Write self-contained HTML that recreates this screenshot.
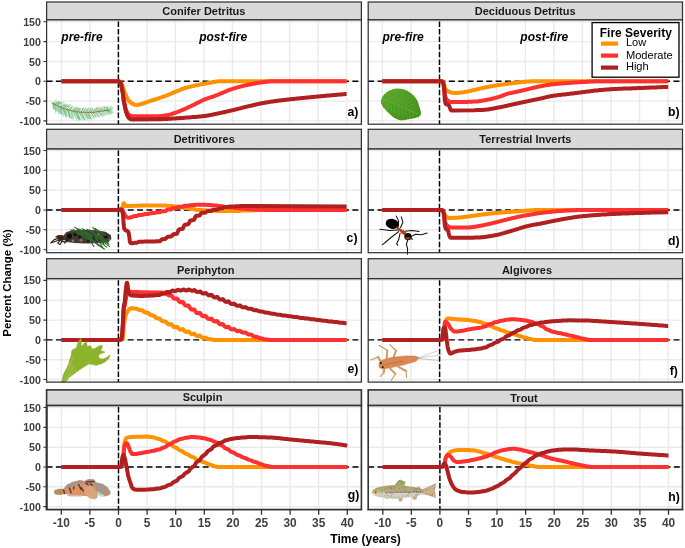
<!DOCTYPE html>
<html lang="en"><head><meta charset="utf-8"><title>Percent change after fire by severity</title>
<style>html,body{margin:0;padding:0;background:#fff}svg{display:block}text{font-family:"Liberation Sans",Arial,Helvetica,sans-serif}.tk{font-size:10.7px;font-weight:bold;fill:#404040}.st{font-size:11px;font-weight:bold;fill:#1a1a1a;text-anchor:middle}.pf{font-size:12px;font-weight:bold;font-style:italic;fill:#000;text-anchor:middle}.lt{font-size:12px;font-weight:bold;fill:#000;text-anchor:middle}.ax{font-size:12px;font-weight:bold;fill:#000;text-anchor:middle}.lg{font-size:11.1px;fill:#000}.ln{fill:none;stroke-width:4.0;stroke-linejoin:round;stroke-linecap:butt}</style></head><body>
<svg width="685" height="548" viewBox="0 0 685 548">
<rect width="685" height="548" fill="#fff"/>
<g id="panel-a">
<rect x="46.6" y="19.7" width="314.8" height="104.5" fill="#fff"/>
<path d="M46.6 120.9H361.4M46.6 101.1H361.4M46.6 81.3H361.4M46.6 61.5H361.4M46.6 41.6H361.4M46.6 21.8H361.4M61.4 19.7V124.2M89.9 19.7V124.2M118.4 19.7V124.2M146.9 19.7V124.2M175.4 19.7V124.2M204.0 19.7V124.2M232.5 19.7V124.2M261.0 19.7V124.2M289.6 19.7V124.2M318.1 19.7V124.2M346.6 19.7V124.2" stroke="#eaeaea" stroke-width="1.4" fill="none"/>
<path d="M46.6 81.3H118.4M118.4 81.3H361.4" stroke="#000" stroke-width="1.4" stroke-dasharray="5.9 3.46" fill="none"/>
<path d="M118.4 19.7V124.2" stroke="#000" stroke-width="1.45" stroke-dasharray="5.5 2.1" stroke-dashoffset="5.9" fill="none"/>
<path class="ln" stroke="#FF9200" d="M61.4 81.3 L118.4 81.3 118.8 81.3 119.2 81.5 119.5 81.7 119.9 81.9 120.3 82.2 120.7 82.5 121.1 82.9 121.4 83.6 121.8 84.4 122.2 85.3 122.6 86.3 123.0 87.2 123.3 88.3 123.7 89.4 124.1 90.7 124.5 91.9 124.9 93.0 125.2 94.0 125.6 94.8 126.0 95.7 126.4 96.5 126.8 97.2 127.1 98.0 127.5 98.7 127.9 99.3 128.3 99.9 128.7 100.4 129.0 100.9 129.4 101.3 129.8 101.7 130.2 102.1 130.6 102.5 131.0 102.8 131.3 103.1 131.7 103.4 132.1 103.6 132.5 103.8 132.9 104.0 133.2 104.1 133.6 104.3 134.0 104.4 134.4 104.6 134.8 104.7 135.1 104.8 135.5 104.9 136.2 104.9 136.9 104.9 137.7 104.8 138.4 104.7 139.1 104.6 139.8 104.4 140.5 104.3 141.2 104.1 141.9 103.9 142.6 103.7 143.4 103.5 144.1 103.2 144.8 102.9 145.5 102.6 146.2 102.4 146.9 102.1 147.6 101.9 148.4 101.6 149.1 101.4 149.8 101.2 150.5 100.9 151.2 100.7 151.9 100.5 152.6 100.2 153.3 100.0 154.1 99.8 154.8 99.5 155.5 99.3 156.2 99.1 156.9 98.8 157.6 98.6 158.3 98.3 159.0 98.1 159.8 97.9 160.5 97.6 161.2 97.4 161.9 97.1 162.6 96.9 163.3 96.6 164.0 96.4 164.8 96.1 165.5 95.9 166.2 95.6 166.9 95.4 167.6 95.1 168.3 94.8 169.0 94.5 169.7 94.2 170.5 93.9 171.2 93.6 171.9 93.3 172.6 93.0 173.3 92.7 174.0 92.4 174.7 92.1 175.4 91.8 176.2 91.5 176.9 91.2 177.6 90.9 178.3 90.6 179.0 90.3 179.7 90.0 180.4 89.7 181.2 89.5 181.9 89.2 182.6 88.9 183.3 88.7 184.0 88.4 184.7 88.2 185.4 88.0 186.1 87.7 186.9 87.5 187.6 87.3 188.3 87.1 189.0 87.0 189.7 86.8 190.4 86.6 191.1 86.4 191.9 86.3 192.6 86.1 193.3 85.9 194.0 85.8 194.7 85.6 195.4 85.5 196.1 85.3 196.8 85.2 197.6 85.0 198.3 84.9 199.0 84.7 199.7 84.6 200.4 84.4 201.1 84.3 201.8 84.2 202.5 84.0 203.3 83.9 204.0 83.8 204.7 83.7 205.4 83.5 206.1 83.4 206.8 83.3 207.5 83.1 208.3 83.0 209.0 82.9 209.7 82.8 210.4 82.6 211.1 82.5 211.8 82.4 212.5 82.3 213.2 82.2 214.0 82.0 214.7 81.9 215.4 81.7 216.1 81.6 216.8 81.5 217.5 81.4 218.2 81.3 346.6 81.3"/>
<path class="ln" stroke="#FF3030" d="M61.4 81.3 L118.4 81.3 118.8 81.4 119.2 81.5 119.5 81.7 119.9 82.0 120.3 82.4 120.7 83.0 121.1 84.0 121.4 85.5 121.8 87.3 122.2 89.1 122.6 91.0 123.0 93.5 123.3 96.2 123.7 98.9 124.1 101.1 124.5 103.1 124.9 104.9 125.2 106.7 125.6 108.3 126.0 109.6 126.4 110.6 126.8 111.5 127.1 112.3 127.5 113.0 127.9 113.6 128.3 114.1 128.7 114.5 129.0 114.9 129.4 115.1 129.8 115.3 130.2 115.5 130.6 115.7 131.0 115.8 131.3 116.0 131.7 116.1 132.1 116.1 132.5 116.2 156.9 116.2 157.6 116.2 158.3 116.2 159.0 116.2 159.8 116.1 160.5 116.1 161.2 116.0 161.9 115.9 162.6 115.8 163.3 115.8 164.0 115.7 164.8 115.6 165.5 115.4 166.2 115.3 166.9 115.2 167.6 115.1 168.3 114.9 169.0 114.8 169.7 114.6 170.5 114.4 171.2 114.2 171.9 114.0 172.6 113.7 173.3 113.4 174.0 113.2 174.7 112.9 175.4 112.6 176.2 112.4 176.9 112.1 177.6 111.9 178.3 111.6 179.0 111.3 179.7 111.1 180.4 110.8 181.2 110.5 181.9 110.2 182.6 109.9 183.3 109.6 184.0 109.3 184.7 109.0 185.4 108.7 186.1 108.4 186.9 108.0 187.6 107.7 188.3 107.4 189.0 107.0 189.7 106.7 190.4 106.4 191.1 106.0 191.9 105.7 192.6 105.3 193.3 105.0 194.0 104.6 194.7 104.3 195.4 103.9 196.1 103.6 196.8 103.2 197.6 102.9 198.3 102.5 199.0 102.1 199.7 101.8 200.4 101.4 201.1 101.0 201.8 100.7 202.5 100.3 203.3 100.0 204.0 99.7 204.7 99.4 205.4 99.1 206.1 98.9 206.8 98.6 207.5 98.4 208.3 98.1 209.0 97.9 209.7 97.7 210.4 97.5 211.1 97.2 211.8 97.0 212.5 96.8 213.2 96.5 214.0 96.3 214.7 96.0 215.4 95.7 216.1 95.4 216.8 95.1 217.5 94.9 218.2 94.6 219.0 94.3 219.7 94.0 220.4 93.7 221.1 93.4 221.8 93.1 222.5 92.8 223.2 92.5 223.9 92.2 224.7 91.9 225.4 91.6 226.1 91.3 226.8 91.0 227.5 90.7 228.2 90.4 228.9 90.1 229.6 89.8 230.4 89.6 231.1 89.3 231.8 89.1 232.5 88.9 233.2 88.6 233.9 88.4 234.6 88.2 235.4 88.0 236.1 87.8 236.8 87.6 237.5 87.4 238.2 87.2 238.9 87.0 239.6 86.8 240.3 86.6 241.1 86.4 241.8 86.2 242.5 86.1 243.2 85.9 243.9 85.7 244.6 85.6 245.3 85.4 246.0 85.2 246.8 85.1 247.5 84.9 248.2 84.8 248.9 84.6 249.6 84.5 250.3 84.3 251.0 84.2 251.8 84.0 252.5 83.9 253.2 83.8 253.9 83.6 254.6 83.5 255.3 83.4 256.0 83.3 256.7 83.1 257.5 83.0 258.2 82.9 258.9 82.8 259.6 82.7 260.3 82.6 261.0 82.5 261.7 82.4 262.5 82.3 263.2 82.2 263.9 82.1 264.6 82.0 265.3 81.9 266.0 81.8 266.7 81.7 267.4 81.6 268.2 81.5 268.9 81.4 269.6 81.4 270.3 81.3 271.0 81.3 346.6 81.3"/>
<path class="ln" stroke="#B02020" d="M61.4 81.3 L118.4 81.3 118.8 81.4 119.2 81.5 119.5 81.7 119.9 82.0 120.3 82.4 120.7 83.0 121.1 84.3 121.4 86.0 121.8 88.0 122.2 90.2 122.6 92.3 123.0 95.0 123.3 97.9 123.7 100.7 124.1 103.1 124.5 105.1 124.9 107.0 125.2 108.8 125.6 110.4 126.0 111.8 126.4 113.0 126.8 114.1 127.1 115.1 127.5 115.9 127.9 116.7 128.3 117.3 128.7 117.8 129.0 118.1 129.4 118.4 129.8 118.7 130.2 118.9 130.6 119.1 131.0 119.3 131.3 119.3 131.7 119.4 156.2 119.3 156.9 119.3 157.6 119.3 158.3 119.3 159.0 119.2 159.8 119.2 160.5 119.2 161.2 119.2 161.9 119.1 162.6 119.1 163.3 119.1 164.0 119.1 164.8 119.0 165.5 119.0 166.2 118.9 166.9 118.9 167.6 118.9 168.3 118.8 169.0 118.8 169.7 118.7 170.5 118.7 171.2 118.7 171.9 118.6 172.6 118.6 173.3 118.5 174.0 118.5 174.7 118.4 175.4 118.4 176.2 118.3 176.9 118.3 177.6 118.3 178.3 118.2 179.0 118.2 179.7 118.1 180.4 118.1 181.2 118.0 181.9 118.0 182.6 117.9 183.3 117.9 184.0 117.8 184.7 117.7 185.4 117.7 186.1 117.6 186.9 117.6 187.6 117.5 188.3 117.5 189.0 117.4 189.7 117.4 190.4 117.3 191.1 117.3 191.9 117.2 192.6 117.1 193.3 117.1 194.0 117.0 194.7 117.0 195.4 116.9 196.1 116.9 196.8 116.8 197.6 116.7 198.3 116.7 199.0 116.6 199.7 116.5 200.4 116.5 201.1 116.4 201.8 116.3 202.5 116.2 203.3 116.1 204.0 116.1 204.7 116.0 205.4 115.9 206.1 115.8 206.8 115.7 207.5 115.6 208.3 115.4 209.0 115.3 209.7 115.2 210.4 115.0 211.1 114.9 211.8 114.8 212.5 114.6 213.2 114.5 214.0 114.3 214.7 114.2 215.4 114.0 216.1 113.9 216.8 113.7 217.5 113.6 218.2 113.4 219.0 113.3 219.7 113.1 220.4 113.0 221.1 112.8 221.8 112.7 222.5 112.5 223.2 112.4 223.9 112.2 224.7 112.0 225.4 111.9 226.1 111.7 226.8 111.6 227.5 111.4 228.2 111.2 228.9 111.1 229.6 110.9 230.4 110.7 231.1 110.6 231.8 110.4 232.5 110.2 233.2 110.1 233.9 109.9 234.6 109.7 235.4 109.5 236.1 109.3 236.8 109.2 237.5 109.0 238.2 108.8 238.9 108.6 239.6 108.4 240.3 108.3 241.1 108.1 241.8 107.9 242.5 107.7 243.2 107.5 243.9 107.4 244.6 107.2 245.3 107.0 246.0 106.8 246.8 106.7 247.5 106.5 248.2 106.3 248.9 106.2 249.6 106.0 250.3 105.8 251.0 105.7 251.8 105.5 252.5 105.3 253.2 105.2 253.9 105.0 254.6 104.8 255.3 104.7 256.0 104.5 256.7 104.3 257.5 104.2 258.2 104.0 258.9 103.9 259.6 103.7 260.3 103.6 261.0 103.4 261.7 103.3 262.5 103.2 263.2 103.0 263.9 102.9 264.6 102.8 265.3 102.7 266.0 102.5 266.7 102.4 267.4 102.3 268.2 102.2 268.9 102.1 269.6 101.9 270.3 101.8 271.0 101.7 271.7 101.6 272.4 101.5 273.1 101.4 273.9 101.3 274.6 101.2 275.3 101.1 276.0 101.0 276.7 100.9 277.4 100.8 278.1 100.7 278.9 100.6 279.6 100.5 280.3 100.4 281.0 100.3 281.7 100.2 282.4 100.2 283.1 100.1 283.8 100.0 284.6 99.9 285.3 99.8 286.0 99.7 286.7 99.7 287.4 99.6 288.1 99.5 288.8 99.4 289.6 99.3 290.3 99.3 291.0 99.2 291.7 99.1 292.4 99.0 293.1 99.0 293.8 98.9 294.5 98.8 295.3 98.8 296.0 98.7 296.7 98.6 297.4 98.5 298.1 98.5 298.8 98.4 299.5 98.3 300.2 98.3 301.0 98.2 301.7 98.1 302.4 98.0 303.1 98.0 303.8 97.9 304.5 97.8 305.2 97.8 306.0 97.7 306.7 97.6 307.4 97.5 308.1 97.5 308.8 97.4 309.5 97.3 310.2 97.3 310.9 97.2 311.7 97.1 312.4 97.0 313.1 97.0 313.8 96.9 314.5 96.8 315.2 96.8 315.9 96.7 316.6 96.6 317.4 96.6 318.1 96.5 318.8 96.4 319.5 96.4 320.2 96.3 320.9 96.2 321.6 96.2 322.4 96.1 323.1 96.0 323.8 96.0 324.5 95.9 325.2 95.8 325.9 95.8 326.6 95.7 327.3 95.6 328.1 95.6 328.8 95.5 329.5 95.5 330.2 95.4 330.9 95.3 331.6 95.3 332.3 95.2 333.1 95.1 333.8 95.1 334.5 95.0 335.2 95.0 335.9 94.9 336.6 94.8 337.3 94.8 338.0 94.7 338.8 94.6 339.5 94.6 340.2 94.5 340.9 94.5 341.6 94.4 342.3 94.3 343.0 94.3 343.7 94.2 344.5 94.2 345.2 94.1 345.9 94.0 346.6 94.0"/>
<g id="icon-conifer"><path d="M53.1 103.3L58.9 101.4M52.3 103.5L56.8 99.9M52.9 103.6L53.7 109.0M52.7 103.4L53.2 107.9M54.0 104.2L59.0 102.1M54.3 104.2L59.5 102.0M53.8 103.7L53.8 109.4M54.1 104.0L54.8 109.7M54.6 105.0L58.7 102.0M54.7 105.3L59.3 102.8M55.3 104.8L56.0 111.2M54.5 104.3L56.0 110.6M56.4 105.3L61.0 102.2M56.3 105.5L61.3 102.5M55.9 105.6L57.6 111.3M56.3 105.8L55.7 113.0M57.5 105.5L61.1 102.5M57.5 105.8L61.7 102.5M57.5 105.7L58.7 111.7M57.6 106.5L58.7 113.5M58.9 106.9L64.0 103.7M58.8 106.1L63.6 102.1M59.0 106.4L59.2 113.6M58.8 107.0L60.8 113.2M60.3 107.4L64.9 103.9M59.9 107.2L64.7 105.1M60.0 107.1L61.1 114.2M60.2 106.8L60.9 113.0M61.8 107.8L67.0 105.0M61.9 107.6L65.3 104.1M61.7 107.9L62.1 114.5M61.4 107.6L62.5 114.1M62.6 108.0L66.4 104.6M62.7 108.5L67.5 104.6M63.0 108.3L63.8 116.5M62.5 108.1L65.3 114.6M63.8 108.8L66.7 105.6M64.0 108.3L68.2 105.4M63.8 108.8L65.4 116.0M63.6 108.5L66.2 115.5M65.2 108.9L69.1 104.5M65.3 108.6L69.6 105.8M65.6 109.7L66.3 117.3M64.8 109.4L65.9 116.3M66.3 109.7L70.3 105.8M67.2 109.1L71.0 104.4M66.8 109.9L70.7 118.0M66.3 109.3L67.5 116.6M67.9 110.2L71.0 107.3M68.2 110.1L71.5 107.3M67.8 110.1L69.6 117.5M68.0 109.4L69.3 117.6M69.2 110.7L72.4 107.4M69.4 110.1L72.9 105.6M68.7 110.9L72.0 119.0M68.7 110.5L69.8 117.8M70.9 110.7L75.5 107.7M70.2 110.3L73.5 106.9M70.7 110.9L72.2 118.7M70.3 110.6L73.2 117.4M72.1 110.8L76.5 107.1M71.8 111.0L76.6 107.5M72.0 111.5L73.5 119.5M71.9 110.9L75.6 117.5M73.0 111.3L76.3 108.9M73.3 111.5L77.5 108.0M73.3 111.1L78.4 119.0M73.4 111.6L76.7 120.2M74.5 111.6L78.5 107.7M75.1 111.5L78.7 108.2M75.1 111.3L79.2 119.0M74.6 111.5L78.7 118.7M76.1 112.0L78.5 108.2M75.9 111.5L80.2 108.1M76.4 112.0L78.3 120.1M75.5 111.9L80.4 119.5M77.9 112.0L80.1 108.8M77.3 112.1L79.6 108.8M77.6 111.7L80.1 119.7M77.3 111.8L79.9 120.1M78.6 111.5L81.5 107.9M78.3 112.1L81.0 109.3M79.0 111.8L83.1 119.9M79.0 112.1L82.0 119.3M80.1 112.6L83.6 108.7M80.8 112.3L83.1 107.8M80.3 112.2L84.4 119.7M80.5 112.2L83.9 119.1M81.2 112.0L83.6 107.9M81.4 112.0L83.2 108.5M81.4 112.2L85.2 119.9M81.4 112.5L85.3 119.6M82.8 112.2L85.8 107.5M82.5 112.9L85.9 108.4M83.0 112.6L87.6 119.9M83.1 112.1L87.5 118.3M84.4 112.5L87.6 108.9M84.0 112.4L87.0 108.4M84.6 112.8L88.5 118.7M85.2 113.2L89.6 120.0M85.9 112.6L88.6 109.0M85.8 112.4L88.2 108.8M86.1 112.9L90.7 118.2M85.7 112.4L88.7 118.3M87.1 112.0L88.9 107.6M87.4 113.2L90.3 109.4M87.3 112.3L90.1 118.2M87.3 112.8L90.7 118.8M88.7 112.3L91.5 107.8M88.7 112.6L91.1 108.8M88.8 112.9L93.6 119.2M88.5 112.5L91.6 119.7M90.2 112.7L92.2 109.1M90.2 112.8L92.5 108.5M90.3 112.1L93.6 117.4M90.6 112.4L94.5 116.8M92.0 112.9L94.9 108.6M91.4 112.1L92.7 108.7M91.6 112.3L94.4 118.1M91.8 111.7L95.9 115.5M93.2 112.2L95.6 108.7M92.7 112.4L94.6 109.2M92.9 112.7L96.6 116.8M93.3 112.2L96.0 117.7M94.7 112.2L96.7 107.4M95.3 112.1L96.6 108.3M94.8 112.4L99.5 117.3M94.4 112.0L98.2 116.7M96.1 112.0L98.0 107.0M96.7 111.3L98.0 107.7M96.1 112.1L98.7 116.4M96.3 112.5L99.9 116.4M97.6 111.9L100.2 108.3M97.4 112.1L99.5 107.3M97.9 111.6L100.8 115.6M97.9 112.3L102.1 116.1M99.0 111.6L100.1 107.7M99.0 111.8L100.5 108.8M98.9 112.0L103.6 115.9M98.7 112.0L102.7 116.2M100.2 111.7L102.3 107.2M101.0 111.0L102.0 107.8M100.3 111.7L104.7 115.8M100.2 111.7L103.5 114.5M101.8 110.8L103.6 106.3M102.6 111.2L104.3 107.6M101.8 111.2L105.4 114.5M101.9 111.1L105.1 114.9M104.0 110.9L105.2 106.8M103.8 111.1L105.2 106.3M103.7 110.7L107.3 113.9M103.3 110.9L107.3 115.2M105.4 110.3L106.7 107.3M104.6 110.8L107.2 106.5M105.3 110.7L108.0 114.3M105.2 110.5L109.5 114.1M106.9 109.8L107.9 106.4M107.0 110.2L108.1 107.0M107.5 110.5L111.5 113.7M107.0 110.6L110.7 115.0M106.7 110.4L112.0 105.5M106.7 110.4L111.6 107.2M106.7 110.4L113.2 107.6M106.7 110.4L112.8 108.9M106.7 110.4L112.3 110.0M106.7 110.4L112.1 110.9M106.7 110.4L113.4 112.2M106.7 110.4L112.7 113.2M106.7 110.4L110.9 113.4" stroke="#2f9e48" stroke-width="0.5" stroke-opacity="0.7" fill="none" stroke-linecap="round"/><path d="M51.6 102.9Q76.0 117.3 106.7 110.4" stroke="#a5702e" stroke-width="0.9" fill="none"/></g>
<text class="pf" x="82.0" y="40.6">pre-fire</text>
<text class="pf" x="223.2" y="40.6">post-fire</text>
<text class="lt" style="font-size:13.6px;text-anchor:end" transform="translate(358.4 116.0) scale(0.9 1)">a)</text>
<rect x="46.6" y="19.7" width="314.8" height="104.5" fill="none" stroke="#333" stroke-width="1.25"/>
<rect x="46.6" y="2.0" width="314.8" height="17.7" fill="#d9d9d9" stroke="#333" stroke-width="1.25"/>
<text class="st" x="203.9" y="15.25">Conifer Detritus</text>
<text class="tk" text-anchor="end" x="41.0" y="124.9">-100</text>
<text class="tk" text-anchor="end" x="41.0" y="105.1">-50</text>
<text class="tk" text-anchor="end" x="41.0" y="85.3">0</text>
<text class="tk" text-anchor="end" x="41.0" y="65.5">50</text>
<text class="tk" text-anchor="end" x="41.0" y="45.6">100</text>
<text class="tk" text-anchor="end" x="41.0" y="25.8">150</text>
<path d="M43.4 120.9H46.6M43.4 101.1H46.6M43.4 81.3H46.6M43.4 61.5H46.6M43.4 41.6H46.6M43.4 21.8H46.6" stroke="#333" stroke-width="1.1" fill="none"/>
</g>
<g id="panel-b">
<rect x="368.2" y="19.7" width="314.3" height="104.5" fill="#fff"/>
<path d="M368.2 120.9H682.5M368.2 101.1H682.5M368.2 81.3H682.5M368.2 61.5H682.5M368.2 41.6H682.5M368.2 21.8H682.5M382.3 19.7V124.2M410.9 19.7V124.2M439.5 19.7V124.2M468.1 19.7V124.2M496.7 19.7V124.2M525.3 19.7V124.2M553.9 19.7V124.2M582.4 19.7V124.2M611.0 19.7V124.2M639.6 19.7V124.2M668.2 19.7V124.2" stroke="#eaeaea" stroke-width="1.4" fill="none"/>
<path d="M368.2 81.3H439.5M439.5 81.3H682.5" stroke="#000" stroke-width="1.4" stroke-dasharray="5.9 3.46" fill="none"/>
<path d="M439.5 19.7V124.2" stroke="#000" stroke-width="1.45" stroke-dasharray="5.5 2.1" stroke-dashoffset="5.9" fill="none"/>
<path class="ln" stroke="#FF9200" d="M382.3 81.3 L439.5 81.3 440.6 81.3 441.0 81.4 441.4 81.4 441.8 81.4 442.2 81.5 442.5 81.6 442.9 82.0 443.3 82.7 443.7 83.5 444.1 84.5 444.5 86.2 444.8 87.8 445.2 88.8 445.6 89.3 446.0 89.8 446.4 90.1 446.7 90.4 447.1 90.7 447.5 90.9 447.9 91.1 448.3 91.3 448.6 91.5 449.0 91.7 449.4 91.9 449.8 92.0 450.2 92.2 450.6 92.3 450.9 92.4 451.3 92.5 451.7 92.6 452.1 92.7 452.5 92.7 452.8 92.8 453.2 92.9 453.6 92.9 454.0 93.0 454.4 93.0 456.7 93.0 457.4 92.9 458.1 92.9 458.8 92.8 459.5 92.7 460.2 92.6 460.9 92.6 461.7 92.5 462.4 92.4 463.1 92.3 463.8 92.2 464.5 92.1 465.2 92.0 465.9 91.8 466.7 91.7 467.4 91.5 468.1 91.4 468.8 91.2 469.5 91.0 470.2 90.9 470.9 90.7 471.7 90.5 472.4 90.3 473.1 90.2 473.8 90.0 474.5 89.9 475.2 89.7 475.9 89.6 476.7 89.4 477.4 89.2 478.1 89.1 478.8 88.9 479.5 88.7 480.2 88.6 481.0 88.4 481.7 88.2 482.4 88.1 483.1 87.9 483.8 87.8 484.5 87.6 485.2 87.4 486.0 87.3 486.7 87.1 487.4 87.0 488.1 86.9 488.8 86.7 489.5 86.6 490.2 86.4 491.0 86.3 491.7 86.2 492.4 86.0 493.1 85.9 493.8 85.8 494.5 85.7 495.2 85.6 496.0 85.4 496.7 85.3 497.4 85.2 498.1 85.1 498.8 85.0 499.5 84.9 500.2 84.8 501.0 84.7 501.7 84.6 502.4 84.5 503.1 84.4 503.8 84.3 504.5 84.2 505.3 84.1 506.0 84.0 506.7 83.9 507.4 83.8 508.1 83.7 508.8 83.6 509.5 83.5 510.3 83.4 511.0 83.4 511.7 83.3 512.4 83.2 513.1 83.1 513.8 83.0 514.5 82.9 515.3 82.8 516.0 82.8 516.7 82.7 517.4 82.6 518.1 82.5 518.8 82.4 519.5 82.3 520.3 82.3 521.0 82.2 521.7 82.1 522.4 82.0 523.1 82.0 523.8 81.9 524.5 81.8 525.3 81.8 526.0 81.7 526.7 81.6 527.4 81.6 528.1 81.5 528.8 81.5 529.6 81.4 530.3 81.4 531.0 81.3 668.2 81.3"/>
<path class="ln" stroke="#FF3030" d="M382.3 81.3 L439.5 81.3 440.6 81.3 441.0 81.4 441.4 81.4 441.8 81.4 442.2 81.5 442.5 81.6 442.9 82.3 443.3 83.5 443.7 84.9 444.1 87.0 444.5 90.5 444.8 94.1 445.2 96.4 445.6 97.4 446.0 98.3 446.4 99.0 446.7 99.5 447.1 100.0 447.5 100.3 447.9 100.6 448.3 100.9 448.6 101.2 449.0 101.4 449.4 101.6 449.8 101.8 450.2 101.9 450.6 101.9 450.9 102.0 451.3 102.0 451.7 102.0 452.1 102.1 452.5 102.1 464.5 102.0 465.2 101.9 465.9 101.9 466.7 101.9 467.4 101.9 468.1 101.8 468.8 101.8 469.5 101.8 470.2 101.8 470.9 101.7 471.7 101.7 472.4 101.7 473.1 101.6 473.8 101.6 474.5 101.6 475.2 101.5 475.9 101.5 476.7 101.4 477.4 101.4 478.1 101.3 478.8 101.2 479.5 101.1 480.2 101.0 481.0 100.9 481.7 100.8 482.4 100.7 483.1 100.5 483.8 100.4 484.5 100.2 485.2 100.1 486.0 100.0 486.7 99.8 487.4 99.7 488.1 99.5 488.8 99.4 489.5 99.3 490.2 99.1 491.0 98.9 491.7 98.8 492.4 98.6 493.1 98.5 493.8 98.3 494.5 98.1 495.2 97.9 496.0 97.7 496.7 97.5 497.4 97.3 498.1 97.1 498.8 96.9 499.5 96.7 500.2 96.5 501.0 96.3 501.7 96.0 502.4 95.7 503.1 95.4 503.8 95.1 504.5 94.8 505.3 94.5 506.0 94.2 506.7 94.0 507.4 93.8 508.1 93.6 508.8 93.4 509.5 93.2 510.3 93.1 511.0 93.0 511.7 92.8 512.4 92.7 513.1 92.6 513.8 92.4 514.5 92.2 515.3 92.1 516.0 91.9 516.7 91.8 517.4 91.6 518.1 91.4 518.8 91.3 519.5 91.1 520.3 90.9 521.0 90.8 521.7 90.6 522.4 90.4 523.1 90.3 523.8 90.1 524.5 89.9 525.3 89.8 526.0 89.6 526.7 89.4 527.4 89.3 528.1 89.1 528.8 88.9 529.6 88.7 530.3 88.6 531.0 88.4 531.7 88.2 532.4 88.1 533.1 87.9 533.8 87.7 534.6 87.5 535.3 87.4 536.0 87.2 536.7 87.1 537.4 86.9 538.1 86.7 538.8 86.6 539.6 86.5 540.3 86.3 541.0 86.2 541.7 86.0 542.4 85.9 543.1 85.8 543.8 85.6 544.6 85.5 545.3 85.3 546.0 85.2 546.7 85.1 547.4 85.0 548.1 84.9 548.8 84.8 549.6 84.7 550.3 84.6 551.0 84.5 551.7 84.4 552.4 84.3 553.1 84.2 553.9 84.2 554.6 84.1 555.3 84.0 556.0 83.9 556.7 83.9 557.4 83.8 558.1 83.7 558.9 83.7 559.6 83.6 560.3 83.6 561.0 83.5 561.7 83.4 562.4 83.4 563.1 83.3 563.9 83.3 564.6 83.2 565.3 83.2 566.0 83.1 566.7 83.1 567.4 83.0 568.1 83.0 568.9 82.9 569.6 82.9 570.3 82.8 571.0 82.8 571.7 82.7 572.4 82.7 573.1 82.6 573.9 82.6 574.6 82.5 575.3 82.5 576.0 82.4 576.7 82.4 577.4 82.3 578.1 82.3 578.9 82.3 579.6 82.2 580.3 82.2 581.0 82.1 581.7 82.1 582.4 82.1 583.2 82.0 583.9 82.0 584.6 81.9 585.3 81.9 586.0 81.9 586.7 81.8 587.4 81.8 588.2 81.7 588.9 81.7 589.6 81.6 590.3 81.6 591.0 81.5 591.7 81.5 592.4 81.4 593.2 81.4 593.9 81.4 594.6 81.3 668.2 81.3"/>
<path class="ln" stroke="#B02020" d="M382.3 81.3 L439.5 81.3 440.6 81.3 441.0 81.4 441.4 81.4 441.8 81.4 442.2 81.5 442.5 81.6 442.9 82.4 443.3 83.8 443.7 85.6 444.1 88.8 444.5 94.6 444.8 99.6 445.2 102.0 445.6 103.5 446.0 104.1 446.4 104.3 446.7 104.4 447.1 104.5 447.5 104.6 447.9 104.7 448.3 104.9 448.6 105.1 449.0 105.6 449.4 106.5 449.8 107.5 450.2 108.5 450.6 109.6 450.9 110.2 451.3 110.4 451.7 110.5 452.1 110.6 452.5 110.6 475.2 110.2 475.9 110.1 476.7 110.1 477.4 110.1 478.1 110.1 478.8 110.0 479.5 110.0 480.2 110.0 481.0 110.0 481.7 109.9 482.4 109.9 483.1 109.9 483.8 109.8 484.5 109.8 485.2 109.7 486.0 109.7 486.7 109.6 487.4 109.5 488.1 109.4 488.8 109.3 489.5 109.2 490.2 109.0 491.0 108.9 491.7 108.8 492.4 108.7 493.1 108.5 493.8 108.4 494.5 108.3 495.2 108.1 496.0 108.0 496.7 107.9 497.4 107.7 498.1 107.6 498.8 107.5 499.5 107.3 500.2 107.2 501.0 107.0 501.7 106.9 502.4 106.7 503.1 106.6 503.8 106.4 504.5 106.3 505.3 106.1 506.0 105.9 506.7 105.8 507.4 105.6 508.1 105.4 508.8 105.3 509.5 105.1 510.3 105.0 511.0 104.8 511.7 104.6 512.4 104.5 513.1 104.3 513.8 104.2 514.5 104.0 515.3 103.9 516.0 103.7 516.7 103.6 517.4 103.4 518.1 103.3 518.8 103.1 519.5 103.0 520.3 102.8 521.0 102.6 521.7 102.5 522.4 102.3 523.1 102.2 523.8 102.0 524.5 101.9 525.3 101.7 526.0 101.6 526.7 101.4 527.4 101.3 528.1 101.1 528.8 101.0 529.6 100.8 530.3 100.7 531.0 100.5 531.7 100.4 532.4 100.2 533.1 100.1 533.8 99.9 534.6 99.8 535.3 99.6 536.0 99.5 536.7 99.3 537.4 99.2 538.1 99.0 538.8 98.9 539.6 98.7 540.3 98.6 541.0 98.4 541.7 98.3 542.4 98.1 543.1 97.9 543.8 97.8 544.6 97.6 545.3 97.4 546.0 97.2 546.7 97.1 547.4 96.9 548.1 96.7 548.8 96.6 549.6 96.4 550.3 96.3 551.0 96.1 551.7 96.0 552.4 95.9 553.1 95.8 553.9 95.7 554.6 95.6 555.3 95.5 556.0 95.4 556.7 95.3 557.4 95.2 558.1 95.1 558.9 95.0 559.6 95.0 560.3 94.9 561.0 94.8 561.7 94.7 562.4 94.6 563.1 94.6 563.9 94.5 564.6 94.4 565.3 94.3 566.0 94.2 566.7 94.2 567.4 94.1 568.1 94.0 568.9 93.9 569.6 93.8 570.3 93.7 571.0 93.6 571.7 93.5 572.4 93.5 573.1 93.4 573.9 93.3 574.6 93.2 575.3 93.1 576.0 93.0 576.7 92.9 577.4 92.8 578.1 92.7 578.9 92.7 579.6 92.6 580.3 92.5 581.0 92.4 581.7 92.3 582.4 92.2 583.2 92.1 583.9 92.0 584.6 91.9 585.3 91.8 586.0 91.7 586.7 91.6 587.4 91.5 588.2 91.5 588.9 91.4 589.6 91.3 590.3 91.2 591.0 91.1 591.7 91.0 592.4 90.9 593.2 90.8 593.9 90.7 594.6 90.6 595.3 90.6 596.0 90.5 596.7 90.4 597.4 90.4 598.2 90.3 598.9 90.2 599.6 90.1 600.3 90.1 601.0 90.0 601.7 90.0 602.4 89.9 603.2 89.8 603.9 89.8 604.6 89.7 605.3 89.7 606.0 89.6 606.7 89.5 607.5 89.5 608.2 89.4 608.9 89.4 609.6 89.3 610.3 89.3 611.0 89.2 611.7 89.2 612.5 89.1 613.2 89.1 613.9 89.1 614.6 89.0 615.3 89.0 616.0 89.0 616.7 88.9 617.5 88.9 618.2 88.8 618.9 88.8 619.6 88.8 620.3 88.8 621.0 88.7 621.7 88.7 622.5 88.7 623.2 88.6 623.9 88.6 624.6 88.6 625.3 88.6 626.0 88.5 626.7 88.5 627.5 88.5 628.2 88.5 628.9 88.4 629.6 88.4 630.3 88.4 631.0 88.4 631.8 88.3 632.5 88.3 633.2 88.3 633.9 88.3 634.6 88.2 635.3 88.2 636.0 88.2 636.8 88.2 637.5 88.1 638.2 88.1 638.9 88.1 639.6 88.0 640.3 88.0 641.0 88.0 641.8 88.0 642.5 87.9 643.2 87.9 643.9 87.9 644.6 87.8 645.3 87.8 646.0 87.8 646.8 87.7 647.5 87.7 648.2 87.7 648.9 87.7 649.6 87.6 650.3 87.6 651.0 87.6 651.8 87.5 652.5 87.5 653.2 87.5 653.9 87.5 654.6 87.4 655.3 87.4 656.1 87.4 656.8 87.3 657.5 87.3 658.2 87.3 658.9 87.2 659.6 87.2 660.3 87.2 661.1 87.2 661.8 87.1 662.5 87.1 663.2 87.1 663.9 87.0 664.6 87.0 665.3 87.0 666.1 86.9 666.8 86.9 667.5 86.9 668.2 86.9"/>
<g id="icon-leaf"><defs><linearGradient id="lfg" x1="0" y1="0" x2="1" y2="1"><stop offset="0" stop-color="#5dab2d"/><stop offset="0.55" stop-color="#4d9a22"/><stop offset="1" stop-color="#418c1b"/></linearGradient></defs><path d="M380.9 103.4 L381.2 102.2 L380.7 100.9 L381.5 99.7 L381.3 98.4 L382.4 97.4 L382.5 96.0 L383.8 95.3 L384.1 94.1 L385.5 93.5 L386.0 92.4 L387.4 92.1 L388.1 91.1 L389.6 90.8 L390.4 89.9 L391.8 89.9 L392.7 89.1 L394.1 89.2 L395.2 88.5 L396.6 88.8 L397.7 88.3 L399.0 88.8 L400.2 88.4 L401.4 89.0 L402.7 88.9 L403.8 89.6 L405.1 89.6 L406.1 90.5 L407.4 90.6 L408.3 91.6 L409.5 91.9 L410.3 92.9 L411.6 93.4 L412.2 94.4 L413.4 95.0 L414.0 96.2 L415.1 96.9 L415.5 98.1 L416.6 99.0 L416.8 100.2 L417.8 101.2 L417.8 102.4 L418.7 103.5 L418.5 104.6 L419.3 105.8 L419.2 107.0 L420.1 108.3 L420.0 109.5 L420.9 111.0 L420.6 112.1 L421.2 113.6 L420.5 114.4 L420.5 115.7 L419.1 116.2 L418.5 117.2 L416.8 117.3 L416.0 118.1 L414.4 118.0 L413.5 118.6 L412.0 118.4 L411.1 118.9 L409.6 118.8 L408.6 119.4 L407.2 119.2 L406.2 119.9 L404.8 119.8 L403.7 120.4 L402.4 120.1 L401.2 120.6 L400.0 120.0 L398.8 120.2 L397.7 119.3 L396.4 119.2 L395.5 118.3 L394.3 118.0 L393.4 116.9 L392.2 116.5 L391.5 115.4 L390.3 114.9 L389.7 113.8 L388.5 113.2 L387.9 112.1 L386.7 111.4 L386.2 110.4 L385.0 109.6 L384.6 108.6 L383.3 107.7 L383.0 106.6 L381.8 105.6 L381.8 104.5Z" fill="url(#lfg)"/><path d="M386.8 100.1L394.1 96.3M386.8 100.1L387.8 107.9M390.5 101.8L399.4 97.1M390.5 101.8L391.8 111.3M394.2 103.4L404.0 98.2M394.2 103.4L395.6 113.9M397.9 105.1L408.0 99.7M397.9 105.1L399.3 115.9M401.5 106.8L411.4 101.6M401.5 106.8L403.0 117.2M405.2 108.4L414.1 103.7M405.2 108.4L406.5 117.9M408.9 110.1L416.2 106.2M408.9 110.1L410.0 117.9M412.6 111.7L417.7 109.1M412.6 111.7L413.4 117.1M416.3 113.4L418.0 112.5M416.3 113.4L416.6 115.2" stroke="#7cc04f" stroke-width="0.5" fill="none" opacity="0.6"/><path d="M383.1 98.5L420.0 115.0" stroke="#6db540" stroke-width="0.6" fill="none" opacity="0.9"/></g>
<text class="pf" x="403.1" y="40.6">pre-fire</text>
<text class="pf" x="544.3" y="40.6">post-fire</text>
<text class="lt" style="font-size:13.6px;text-anchor:end" transform="translate(679.5 116.4) scale(0.9 1)">b)</text>
<rect x="368.2" y="19.7" width="314.3" height="104.5" fill="none" stroke="#333" stroke-width="1.25"/>
<rect x="368.2" y="2.0" width="314.3" height="17.7" fill="#d9d9d9" stroke="#333" stroke-width="1.25"/>
<text class="st" x="525.2" y="15.25">Deciduous Detritus</text>
</g>
<g id="panel-c">
<rect x="46.6" y="148.8" width="314.8" height="103.9" fill="#fff"/>
<path d="M46.6 249.7H361.4M46.6 229.8H361.4M46.6 210.0H361.4M46.6 190.2H361.4M46.6 170.3H361.4M46.6 150.5H361.4M61.4 148.8V252.7M89.9 148.8V252.7M118.4 148.8V252.7M146.9 148.8V252.7M175.4 148.8V252.7M204.0 148.8V252.7M232.5 148.8V252.7M261.0 148.8V252.7M289.6 148.8V252.7M318.1 148.8V252.7M346.6 148.8V252.7" stroke="#eaeaea" stroke-width="1.4" fill="none"/>
<path d="M46.6 210.0H118.4M118.4 210.0H361.4" stroke="#000" stroke-width="1.4" stroke-dasharray="5.9 3.46" fill="none"/>
<path d="M118.4 148.8V252.7" stroke="#000" stroke-width="1.45" stroke-dasharray="5.5 2.1" stroke-dashoffset="5.9" fill="none"/>
<path class="ln" stroke="#FF9200" d="M61.4 210.0 L118.4 210.0 119.5 210.0 119.9 209.9 120.3 209.9 120.7 209.9 121.1 209.8 121.4 209.7 121.8 209.1 122.2 208.1 122.6 207.1 123.0 205.9 123.3 204.3 123.7 203.3 124.1 203.4 124.5 204.0 124.9 204.7 125.2 205.5 125.6 206.0 126.0 206.0 127.1 206.0 127.5 206.0 127.9 205.9 128.3 205.9 128.7 205.9 129.0 205.9 136.9 205.7 137.7 205.7 138.4 205.7 142.6 205.6 143.4 205.6 144.1 205.6 144.8 205.6 148.4 205.5 149.1 205.5 149.8 205.5 160.5 205.5 161.2 205.5 161.9 205.5 165.5 205.6 166.2 205.6 166.9 205.7 167.6 205.8 171.2 205.9 171.9 206.0 172.6 206.2 173.3 206.4 174.0 206.4 176.2 206.5 176.9 206.5 177.6 206.7 178.3 207.0 179.0 207.2 179.7 207.2 181.9 207.2 182.6 207.3 183.3 207.5 184.0 207.8 184.7 208.0 185.4 208.0 187.6 208.0 188.3 208.1 189.0 208.3 189.7 208.7 190.4 209.0 191.1 209.0 193.3 209.1 194.0 209.1 194.7 209.4 195.4 209.7 196.1 209.8 199.0 209.9 199.7 209.9 200.4 210.0 201.1 210.1 201.8 210.2 205.4 210.3 206.1 210.3 206.8 210.5 207.5 210.5 211.1 210.6 211.8 210.7 212.5 210.7 213.2 210.8 216.8 210.8 217.5 210.8 218.2 210.9 219.0 210.9 222.5 210.9 223.2 210.9 223.9 210.9 234.6 211.0 235.4 210.9 236.1 210.9 239.6 210.9 240.3 210.8 241.1 210.7 241.8 210.6 245.3 210.6 246.0 210.5 246.8 210.5 247.5 210.4 251.0 210.4 251.8 210.3 252.5 210.3 253.2 210.2 256.7 210.2 257.5 210.2 258.2 210.1 258.9 210.1 262.5 210.1 263.2 210.0 346.6 210.0"/>
<path class="ln" stroke="#FF3030" d="M61.4 210.0 L118.4 210.0 118.8 209.9 119.2 209.8 119.5 209.7 119.9 209.7 120.3 209.6 121.4 209.6 121.8 209.7 122.2 210.1 122.6 210.7 123.0 211.4 123.3 212.1 123.7 212.7 124.1 213.4 124.5 214.2 124.9 214.9 125.2 215.6 125.6 216.2 126.0 216.5 126.4 216.8 126.8 217.1 127.1 217.3 127.5 217.5 127.9 217.7 128.3 217.7 128.7 217.7 129.0 217.7 129.4 217.7 129.8 217.6 130.2 217.5 130.6 217.4 131.0 217.3 131.3 217.2 131.7 217.1 132.1 217.0 132.5 216.8 132.9 216.6 133.2 216.5 133.6 216.3 134.0 216.2 134.4 216.1 134.8 216.0 135.1 216.0 135.5 215.9 136.2 215.9 136.9 215.9 137.7 215.6 138.4 215.2 139.1 215.0 139.8 214.9 141.9 214.9 142.6 214.8 143.4 214.6 144.1 214.3 144.8 214.0 145.5 214.0 147.6 214.0 148.4 213.9 149.1 213.7 149.8 213.4 150.5 213.2 151.2 213.2 153.3 213.1 154.1 213.1 154.8 212.9 155.5 212.6 156.2 212.4 156.9 212.3 159.0 212.3 159.8 212.3 160.5 212.0 161.2 211.6 161.9 211.3 162.6 211.3 163.3 211.3 164.0 211.2 164.8 211.2 165.5 211.1 166.2 210.7 166.9 210.0 167.6 209.6 168.3 209.6 169.0 209.5 169.7 209.5 170.5 209.5 171.2 209.4 171.9 208.9 172.6 208.4 173.3 208.0 174.0 208.0 174.7 208.0 175.4 208.0 176.2 207.9 176.9 207.9 177.6 207.5 178.3 207.0 179.0 206.8 179.7 206.7 180.4 206.7 181.2 206.7 181.9 206.7 182.6 206.6 183.3 206.3 184.0 206.0 184.7 205.8 185.4 205.7 187.6 205.7 188.3 205.7 189.0 205.5 189.7 205.3 190.4 205.2 193.3 205.1 194.0 205.1 194.7 205.0 195.4 204.8 196.1 204.7 199.7 204.7 200.4 204.7 201.1 204.7 201.8 204.7 205.4 204.7 206.1 204.8 206.8 204.9 207.5 205.0 210.4 205.1 211.1 205.1 211.8 205.2 212.5 205.4 213.2 205.5 216.1 205.6 216.8 205.6 217.5 205.7 218.2 205.9 219.0 206.1 221.8 206.2 222.5 206.2 223.2 206.4 223.9 206.6 224.7 206.8 227.5 206.9 228.2 206.9 228.9 207.1 229.6 207.3 230.4 207.5 233.2 207.5 233.9 207.6 234.6 207.7 235.4 208.0 236.1 208.1 238.9 208.1 239.6 208.2 240.3 208.3 241.1 208.5 241.8 208.6 244.6 208.7 245.3 208.7 246.0 208.8 246.8 209.0 247.5 209.1 250.3 209.1 251.0 209.2 251.8 209.3 252.5 209.4 253.2 209.4 256.7 209.5 257.5 209.6 258.2 209.6 258.9 209.7 262.5 209.7 263.2 209.8 263.9 209.8 264.6 209.9 268.2 209.9 268.9 209.9 269.6 210.0 346.6 210.0"/>
<path class="ln" stroke="#B02020" d="M61.4 210.0 L118.4 210.0 118.8 209.9 119.2 209.8 119.5 209.7 119.9 209.7 120.3 209.6 121.4 209.6 121.8 209.9 122.2 211.0 122.6 212.7 123.0 214.8 123.3 219.0 123.7 224.8 124.1 228.2 124.5 229.1 124.9 229.6 125.2 230.0 125.6 230.3 126.0 230.5 126.4 230.6 126.8 230.7 127.1 230.9 127.5 231.0 127.9 231.3 128.3 231.7 128.7 233.2 129.0 235.1 129.4 237.6 129.8 241.1 130.2 242.6 130.6 243.0 131.0 243.2 131.3 243.3 132.1 243.3 132.5 243.3 132.9 243.2 133.2 243.1 133.6 243.0 134.0 243.0 134.4 242.9 134.8 242.8 135.1 242.8 135.5 242.8 136.2 242.7 136.9 242.7 137.7 242.3 138.4 241.9 139.1 241.7 142.6 241.7 143.4 241.7 144.1 241.6 149.1 241.6 149.8 241.5 154.1 241.5 154.8 241.5 155.5 241.4 156.2 241.3 159.0 241.3 159.8 241.2 160.5 240.8 161.2 239.9 161.9 239.3 162.6 239.2 163.3 239.2 164.0 239.1 164.8 239.1 165.5 238.9 166.2 238.2 166.9 237.3 167.6 236.8 168.3 236.7 169.0 236.7 169.7 236.6 170.5 236.6 171.2 236.5 171.9 235.9 172.6 235.0 173.3 234.3 174.0 234.2 174.7 234.1 175.4 234.0 176.2 234.0 176.9 233.7 177.6 232.4 178.3 230.5 179.0 229.4 179.7 229.2 180.4 229.2 181.2 229.1 181.9 229.0 182.6 228.8 183.3 227.4 184.0 225.8 184.7 224.8 185.4 224.6 186.1 224.6 186.9 224.5 187.6 224.4 188.3 224.2 189.0 223.0 189.7 221.5 190.4 220.5 191.1 220.4 191.9 220.3 192.6 220.2 193.3 220.1 194.0 219.9 194.7 218.5 195.4 216.7 196.1 215.8 196.8 215.7 197.6 215.7 198.3 215.6 199.0 215.5 199.7 215.4 200.4 214.5 201.1 213.4 201.8 212.8 202.5 212.8 203.3 212.7 204.0 212.7 204.7 212.7 205.4 212.6 206.1 212.1 206.8 211.5 207.5 211.2 208.3 211.1 209.0 211.1 209.7 211.1 210.4 211.1 211.1 211.0 211.8 210.6 212.5 210.2 213.2 209.9 214.0 209.9 214.7 209.8 215.4 209.8 216.1 209.8 216.8 209.7 217.5 209.3 218.2 208.8 219.0 208.4 219.7 208.4 220.4 208.4 221.1 208.3 221.8 208.3 222.5 208.2 223.2 207.8 223.9 207.3 224.7 207.1 225.4 207.1 227.5 207.0 228.2 207.0 228.9 206.7 229.6 206.6 230.4 206.5 233.9 206.4 234.6 206.4 235.4 206.3 236.1 206.2 239.6 206.2 240.3 206.1 241.1 206.1 241.8 206.0 245.3 206.0 246.0 206.0 246.8 206.0 247.5 205.9 251.0 205.9 251.8 205.9 252.5 205.9 346.6 206.4"/>
<g id="icon-caddis"><path d="M63.5 237.3 L58.9 235.5 L55.9 236.7 L60.0 237.9 L54.2 239.6 L50.7 243.1 L57.1 240.8 L60.6 240.2 L57.7 243.1 L60.0 244.6 L61.8 241.4 L65.9 241.9 L64.7 243.1 L67.0 241.4" stroke="#2b1c12" stroke-width="1.1" fill="none" stroke-linejoin="round"/><ellipse cx="61.0" cy="238.1" rx="3.4" ry="3.0" fill="#3a2417"/><path d="M63.5 235.5 L66.4 232.0 L72.9 230.3 L84.6 229.7 L96.2 230.3 L105.6 231.8 L110.8 234.9 L111.4 239.0 L108.5 241.9 L99.7 243.1 L85.7 243.5 L74.0 243.1 L67.0 241.9 L63.5 239.6Z" fill="#423a32"/><circle cx="69.4" cy="236.1" r="2.6" fill="#000" opacity="0.85"/><circle cx="75.2" cy="234.4" r="1.9" fill="#111" opacity="0.85"/><circle cx="92.7" cy="238.4" r="2.3" fill="#111" opacity="0.85"/><circle cx="105.6" cy="236.7" r="2.1" fill="#111" opacity="0.85"/><circle cx="79.9" cy="236.7" r="1.9" fill="#1a1512" opacity="0.85"/><circle cx="99.2" cy="239.0" r="1.6" fill="#1a1512" opacity="0.85"/><circle cx="67.0" cy="239.6" r="1.4" fill="#1a1512" opacity="0.85"/><circle cx="88.1" cy="241.4" r="1.4" fill="#1a1512" opacity="0.85"/><circle cx="81.0" cy="240.2" r="1.6" fill="#8a7a5c" opacity="0.85"/><circle cx="98.6" cy="234.4" r="1.4" fill="#8a7a5c" opacity="0.85"/><circle cx="86.9" cy="233.2" r="1.2" fill="#8f5a30" opacity="0.85"/><circle cx="102.1" cy="240.8" r="1.1" fill="#8f5a30" opacity="0.85"/><circle cx="72.9" cy="240.8" r="1.2" fill="#9a8c74" opacity="0.85"/><circle cx="109.1" cy="239.6" r="1.2" fill="#77695a" opacity="0.85"/><path d="M70.5 229.7L96.2 243.1M74.6 227.1L104.4 249.0M77.5 228.5L99.2 246.0M82.2 228.3L106.7 247.2M86.9 229.1L109.7 246.6M92.7 227.3L108.5 243.1M95.1 228.5L105.6 235.5M84.6 232.0L93.9 246.6M81.0 233.2L100.9 239.0M97.4 229.7L104.4 245.5M72.9 229.1L92.7 241.4M79.9 229.1L102.1 247.8M89.2 229.7L109.1 244.3M84.6 230.3L97.4 244.3M93.3 232.0L103.2 248.6" stroke="#2c672b" stroke-width="1.05" stroke-linecap="round" fill="none"/></g>
<text class="lt" style="font-size:13.6px;text-anchor:end" transform="translate(357.5 242.3) scale(0.9 1)">c)</text>
<rect x="46.6" y="148.8" width="314.8" height="103.9" fill="none" stroke="#333" stroke-width="1.25"/>
<rect x="46.6" y="129.3" width="314.8" height="19.5" fill="#d9d9d9" stroke="#333" stroke-width="1.25"/>
<text class="st" x="204.2" y="142.65">Detritivores</text>
<text class="tk" text-anchor="end" x="41.0" y="253.7">-100</text>
<text class="tk" text-anchor="end" x="41.0" y="233.8">-50</text>
<text class="tk" text-anchor="end" x="41.0" y="214.0">0</text>
<text class="tk" text-anchor="end" x="41.0" y="194.2">50</text>
<text class="tk" text-anchor="end" x="41.0" y="174.3">100</text>
<text class="tk" text-anchor="end" x="41.0" y="154.5">150</text>
<path d="M43.4 249.7H46.6M43.4 229.8H46.6M43.4 210.0H46.6M43.4 190.2H46.6M43.4 170.3H46.6M43.4 150.5H46.6" stroke="#333" stroke-width="1.1" fill="none"/>
</g>
<g id="panel-d">
<rect x="368.2" y="148.8" width="314.3" height="103.9" fill="#fff"/>
<path d="M368.2 249.7H682.5M368.2 229.8H682.5M368.2 210.0H682.5M368.2 190.2H682.5M368.2 170.3H682.5M368.2 150.5H682.5M382.3 148.8V252.7M410.9 148.8V252.7M439.5 148.8V252.7M468.1 148.8V252.7M496.7 148.8V252.7M525.3 148.8V252.7M553.9 148.8V252.7M582.4 148.8V252.7M611.0 148.8V252.7M639.6 148.8V252.7M668.2 148.8V252.7" stroke="#eaeaea" stroke-width="1.4" fill="none"/>
<path d="M368.2 210.0H439.5M439.5 210.0H682.5" stroke="#000" stroke-width="1.4" stroke-dasharray="5.9 3.46" fill="none"/>
<path d="M439.5 148.8V252.7" stroke="#000" stroke-width="1.45" stroke-dasharray="5.5 2.1" stroke-dashoffset="5.9" fill="none"/>
<path class="ln" stroke="#FF9200" d="M382.3 210.0 L439.5 210.0 440.6 210.0 441.0 210.1 441.4 210.1 441.8 210.1 442.2 210.2 442.5 210.3 442.9 210.6 443.3 211.2 443.7 211.8 444.1 212.6 444.5 213.7 444.8 214.8 445.2 215.6 445.6 215.9 446.0 216.3 446.4 216.6 446.7 216.9 447.1 217.2 447.5 217.4 447.9 217.6 448.3 217.8 448.6 217.9 449.0 217.9 456.7 217.7 457.4 217.7 458.1 217.7 458.8 217.6 459.5 217.5 460.2 217.5 460.9 217.4 461.7 217.3 462.4 217.3 463.1 217.2 463.8 217.1 464.5 217.0 465.2 216.9 465.9 216.8 466.7 216.7 467.4 216.6 468.1 216.5 468.8 216.4 469.5 216.3 470.2 216.2 470.9 216.1 471.7 216.0 472.4 215.9 473.1 215.8 473.8 215.7 474.5 215.6 475.2 215.5 475.9 215.4 476.7 215.3 477.4 215.2 478.1 215.1 478.8 215.0 479.5 214.9 480.2 214.8 481.0 214.7 481.7 214.6 482.4 214.5 483.1 214.4 483.8 214.3 484.5 214.2 485.2 214.2 486.0 214.1 486.7 214.0 487.4 213.9 488.1 213.8 488.8 213.8 489.5 213.7 490.2 213.6 491.0 213.5 491.7 213.4 492.4 213.4 493.1 213.3 493.8 213.2 494.5 213.1 495.2 213.1 496.0 213.0 496.7 212.9 497.4 212.9 498.1 212.8 498.8 212.7 499.5 212.7 500.2 212.6 501.0 212.6 501.7 212.5 502.4 212.4 503.1 212.4 503.8 212.3 504.5 212.3 505.3 212.2 506.0 212.2 506.7 212.1 507.4 212.1 508.1 212.0 508.8 211.9 509.5 211.9 510.3 211.8 511.0 211.8 511.7 211.7 512.4 211.7 513.1 211.6 513.8 211.6 514.5 211.5 515.3 211.5 516.0 211.4 516.7 211.4 517.4 211.3 518.1 211.2 518.8 211.2 519.5 211.1 520.3 211.1 521.0 211.0 521.7 211.0 522.4 210.9 523.1 210.9 523.8 210.9 524.5 210.8 525.3 210.8 526.0 210.7 526.7 210.7 527.4 210.6 528.1 210.5 528.8 210.5 529.6 210.4 530.3 210.4 531.0 210.3 531.7 210.3 532.4 210.2 533.1 210.2 533.8 210.2 534.6 210.1 535.3 210.1 536.0 210.1 536.7 210.0 668.2 210.0"/>
<path class="ln" stroke="#FF3030" d="M382.3 210.0 L439.5 210.0 440.6 210.0 441.0 210.1 441.4 210.1 441.8 210.1 442.2 210.2 442.5 210.3 442.9 210.8 443.3 211.7 443.7 212.9 444.1 214.6 444.5 217.7 444.8 220.8 445.2 222.7 445.6 223.5 446.0 224.1 446.4 224.7 446.7 225.1 447.1 225.5 447.5 225.8 447.9 226.1 448.3 226.4 448.6 226.7 449.0 226.9 449.4 227.2 449.8 227.3 450.2 227.4 468.8 227.4 469.5 227.4 470.2 227.3 470.9 227.3 471.7 227.2 472.4 227.1 473.1 227.0 473.8 226.9 474.5 226.8 475.2 226.7 475.9 226.6 476.7 226.5 477.4 226.3 478.1 226.2 478.8 226.1 479.5 226.0 480.2 225.8 481.0 225.7 481.7 225.6 482.4 225.4 483.1 225.3 483.8 225.1 484.5 224.9 485.2 224.8 486.0 224.6 486.7 224.5 487.4 224.3 488.1 224.2 488.8 224.0 489.5 223.8 490.2 223.7 491.0 223.5 491.7 223.3 492.4 223.2 493.1 223.0 493.8 222.8 494.5 222.6 495.2 222.5 496.0 222.3 496.7 222.1 497.4 221.9 498.1 221.8 498.8 221.6 499.5 221.4 500.2 221.2 501.0 221.1 501.7 220.9 502.4 220.7 503.1 220.5 503.8 220.3 504.5 220.1 505.3 220.0 506.0 219.8 506.7 219.6 507.4 219.4 508.1 219.2 508.8 219.0 509.5 218.9 510.3 218.7 511.0 218.5 511.7 218.4 512.4 218.2 513.1 218.0 513.8 217.8 514.5 217.7 515.3 217.5 516.0 217.3 516.7 217.2 517.4 217.0 518.1 216.8 518.8 216.7 519.5 216.5 520.3 216.4 521.0 216.2 521.7 216.1 522.4 215.9 523.1 215.8 523.8 215.7 524.5 215.6 525.3 215.4 526.0 215.3 526.7 215.2 527.4 215.1 528.1 215.0 528.8 214.9 529.6 214.8 530.3 214.7 531.0 214.5 531.7 214.4 532.4 214.3 533.1 214.2 533.8 214.1 534.6 213.9 535.3 213.8 536.0 213.7 536.7 213.5 537.4 213.4 538.1 213.3 538.8 213.2 539.6 213.1 540.3 213.0 541.0 212.9 541.7 212.8 542.4 212.7 543.1 212.6 543.8 212.5 544.6 212.5 545.3 212.4 546.0 212.3 546.7 212.2 547.4 212.1 548.1 212.1 548.8 212.0 549.6 211.9 550.3 211.9 551.0 211.8 551.7 211.7 552.4 211.6 553.1 211.6 553.9 211.5 554.6 211.4 555.3 211.4 556.0 211.3 556.7 211.2 557.4 211.2 558.1 211.1 558.9 211.1 559.6 211.0 560.3 211.0 561.0 210.9 561.7 210.9 562.4 210.8 563.1 210.8 563.9 210.7 564.6 210.7 565.3 210.7 566.0 210.6 566.7 210.6 567.4 210.5 568.1 210.5 568.9 210.5 569.6 210.4 570.3 210.4 571.0 210.4 571.7 210.3 572.4 210.3 573.1 210.3 573.9 210.2 574.6 210.2 575.3 210.2 576.0 210.2 576.7 210.1 577.4 210.1 578.1 210.1 668.2 210.0"/>
<path class="ln" stroke="#B02020" d="M382.3 210.0 L439.5 210.0 440.6 210.0 441.0 210.1 441.4 210.1 441.8 210.1 442.2 210.2 442.5 210.3 442.9 211.0 443.3 212.1 443.7 213.6 444.1 216.3 444.5 221.2 444.8 225.3 445.2 227.0 445.6 228.1 446.0 228.9 446.4 229.3 446.7 229.6 447.1 229.8 447.5 230.1 447.9 230.4 448.3 231.0 448.6 232.6 449.0 234.4 449.4 235.9 449.8 236.7 450.2 237.4 450.6 237.7 473.1 237.7 473.8 237.7 474.5 237.6 475.2 237.6 475.9 237.6 476.7 237.6 477.4 237.5 478.1 237.5 478.8 237.5 479.5 237.4 480.2 237.4 481.0 237.3 481.7 237.3 482.4 237.2 483.1 237.2 483.8 237.1 484.5 237.0 485.2 236.9 486.0 236.8 486.7 236.7 487.4 236.6 488.1 236.4 488.8 236.3 489.5 236.2 490.2 236.1 491.0 236.0 491.7 235.9 492.4 235.8 493.1 235.6 493.8 235.5 494.5 235.4 495.2 235.2 496.0 235.1 496.7 235.0 497.4 234.8 498.1 234.6 498.8 234.5 499.5 234.3 500.2 234.1 501.0 233.9 501.7 233.7 502.4 233.5 503.1 233.3 503.8 233.1 504.5 232.9 505.3 232.7 506.0 232.5 506.7 232.2 507.4 232.0 508.1 231.8 508.8 231.6 509.5 231.4 510.3 231.2 511.0 231.0 511.7 230.8 512.4 230.5 513.1 230.3 513.8 230.1 514.5 229.9 515.3 229.7 516.0 229.5 516.7 229.3 517.4 229.0 518.1 228.8 518.8 228.6 519.5 228.4 520.3 228.1 521.0 227.9 521.7 227.7 522.4 227.5 523.1 227.3 523.8 227.0 524.5 226.8 525.3 226.7 526.0 226.5 526.7 226.3 527.4 226.1 528.1 225.9 528.8 225.8 529.6 225.6 530.3 225.5 531.0 225.3 531.7 225.2 532.4 225.0 533.1 224.9 533.8 224.7 534.6 224.6 535.3 224.5 536.0 224.4 536.7 224.3 537.4 224.2 538.1 224.0 538.8 223.9 539.6 223.8 540.3 223.6 541.0 223.5 541.7 223.4 542.4 223.2 543.1 223.1 543.8 222.9 544.6 222.8 545.3 222.6 546.0 222.5 546.7 222.3 547.4 222.2 548.1 222.0 548.8 221.9 549.6 221.7 550.3 221.6 551.0 221.4 551.7 221.3 552.4 221.2 553.1 221.0 553.9 220.9 554.6 220.7 555.3 220.6 556.0 220.4 556.7 220.3 557.4 220.2 558.1 220.0 558.9 219.9 559.6 219.8 560.3 219.6 561.0 219.5 561.7 219.3 562.4 219.2 563.1 219.1 563.9 219.0 564.6 218.8 565.3 218.7 566.0 218.6 566.7 218.5 567.4 218.4 568.1 218.2 568.9 218.1 569.6 218.0 570.3 217.9 571.0 217.8 571.7 217.7 572.4 217.5 573.1 217.4 573.9 217.3 574.6 217.2 575.3 217.1 576.0 217.0 576.7 216.9 577.4 216.8 578.1 216.7 578.9 216.6 579.6 216.5 580.3 216.4 581.0 216.4 581.7 216.3 582.4 216.2 583.2 216.1 583.9 216.1 584.6 216.0 585.3 215.9 586.0 215.9 586.7 215.8 587.4 215.7 588.2 215.7 588.9 215.6 589.6 215.5 590.3 215.5 591.0 215.4 591.7 215.4 592.4 215.3 593.2 215.3 593.9 215.2 594.6 215.2 595.3 215.1 596.0 215.0 596.7 215.0 597.4 214.9 598.2 214.9 598.9 214.8 599.6 214.8 600.3 214.7 601.0 214.7 601.7 214.6 602.4 214.6 603.2 214.5 603.9 214.5 604.6 214.4 605.3 214.4 606.0 214.4 606.7 214.3 607.5 214.3 608.2 214.2 608.9 214.2 609.6 214.1 610.3 214.1 611.0 214.1 611.7 214.0 612.5 214.0 613.2 214.0 613.9 213.9 614.6 213.9 615.3 213.9 616.0 213.8 616.7 213.8 617.5 213.8 618.2 213.7 618.9 213.7 619.6 213.7 620.3 213.7 621.0 213.6 621.7 213.6 622.5 213.6 623.2 213.5 623.9 213.5 624.6 213.5 625.3 213.5 626.0 213.4 626.7 213.4 627.5 213.4 628.2 213.4 628.9 213.3 629.6 213.3 630.3 213.3 631.0 213.3 631.8 213.2 632.5 213.2 633.2 213.2 633.9 213.2 634.6 213.1 635.3 213.1 636.0 213.1 636.8 213.1 637.5 213.0 638.2 213.0 638.9 213.0 639.6 213.0 640.3 213.0 641.0 212.9 641.8 212.9 642.5 212.9 643.2 212.9 643.9 212.8 644.6 212.8 645.3 212.8 646.0 212.8 646.8 212.8 647.5 212.7 648.2 212.7 648.9 212.7 649.6 212.7 650.3 212.6 651.0 212.6 651.8 212.6 652.5 212.6 653.2 212.6 653.9 212.5 668.2 212.2"/>
<g id="icon-ant"><path d="M398.0 230.1 L389.9 230.4 L379.9 229.3M398.6 231.6 L391.0 237.5 L382.3 244.8M400.1 233.4 L398.6 239.8 L396.6 243.9 L397.8 245.3M405.0 231.3 L412.1 230.4 L419.1 231.6M410.9 236.6 L415.6 234.3 L421.4 234.8 L427.2 233.1M407.6 240.1 L406.4 244.5 L407.6 248.6 L407.4 254.2M400.6 227.5 L402.9 222.3 L401.3 216.8M398.3 226.4 L398.6 221.1 L396.3 216.1M410.3 238.0 L412.6 239.2" stroke="#111" stroke-width="1.05" fill="none" stroke-linejoin="round" stroke-linecap="round"/><ellipse cx="392.2" cy="223.8" rx="6.6" ry="5.0" transform="rotate(12 392.2 223.8)" fill="#000"/><path d="M397.5 228.1L405.0 233.4" stroke="#b5451e" stroke-width="2.6" stroke-linecap="round"/><ellipse cx="403.2" cy="232.2" rx="3.0" ry="2.0" transform="rotate(30 403.2 232.2)" fill="#b5451e"/><circle cx="408.0" cy="236.6" r="3.7" fill="#0d0806"/><ellipse cx="407.8" cy="238.2" rx="2.4" ry="1.3" fill="#8a4a1e"/></g>
<text class="lt" style="font-size:13.6px;text-anchor:end" transform="translate(679.5 245.3) scale(0.9 1)">d)</text>
<rect x="368.2" y="148.8" width="314.3" height="103.9" fill="none" stroke="#333" stroke-width="1.25"/>
<rect x="368.2" y="129.3" width="314.3" height="19.5" fill="#d9d9d9" stroke="#333" stroke-width="1.25"/>
<text class="st" x="525.4" y="142.65">Terrestrial Inverts</text>
</g>
<g id="panel-e">
<rect x="46.6" y="278.6" width="314.8" height="103.5" fill="#fff"/>
<path d="M46.6 379.5H361.4M46.6 359.7H361.4M46.6 339.9H361.4M46.6 320.1H361.4M46.6 300.2H361.4M46.6 280.4H361.4M61.4 278.6V382.1M89.9 278.6V382.1M118.4 278.6V382.1M146.9 278.6V382.1M175.4 278.6V382.1M204.0 278.6V382.1M232.5 278.6V382.1M261.0 278.6V382.1M289.6 278.6V382.1M318.1 278.6V382.1M346.6 278.6V382.1" stroke="#eaeaea" stroke-width="1.4" fill="none"/>
<path d="M46.6 339.9H118.4M118.4 339.9H361.4" stroke="#000" stroke-width="1.4" stroke-dasharray="5.9 3.46" fill="none"/>
<path d="M118.4 278.6V382.1" stroke="#000" stroke-width="1.45" stroke-dasharray="5.5 2.1" stroke-dashoffset="5.9" fill="none"/>
<path class="ln" stroke="#FF9200" d="M61.4 339.9 L118.4 339.9 119.2 339.9 119.5 339.9 119.9 339.8 120.3 339.8 120.7 339.7 121.1 339.7 121.4 339.6 121.8 339.5 122.2 339.1 122.6 338.1 123.0 336.7 123.3 333.4 123.7 328.3 124.1 324.0 124.5 321.4 124.9 319.1 125.2 317.2 125.6 315.8 126.0 314.7 126.4 313.6 126.8 312.7 127.1 312.0 127.5 311.3 127.9 310.8 128.3 310.4 128.7 310.0 129.0 309.6 129.4 309.2 129.8 308.9 130.2 308.6 130.6 308.4 131.0 308.3 131.3 308.2 132.1 308.2 132.5 308.2 132.9 308.3 133.2 308.3 133.6 308.4 134.0 308.5 134.4 308.5 134.8 308.6 135.1 308.7 135.5 308.7 136.2 308.7 136.9 308.8 137.7 309.2 138.4 309.6 139.1 310.0 139.8 310.1 140.5 310.2 141.2 310.2 141.9 310.3 142.6 310.4 143.4 311.0 144.1 311.9 144.8 312.4 145.5 312.5 146.2 312.6 146.9 312.7 147.6 312.8 148.4 312.9 149.1 313.6 149.8 314.5 150.5 315.1 151.2 315.2 151.9 315.3 152.6 315.4 153.3 315.5 154.1 315.7 154.8 316.5 155.5 317.5 156.2 318.1 156.9 318.2 157.6 318.3 158.3 318.4 159.0 318.5 159.8 318.7 160.5 319.4 161.2 320.4 161.9 321.0 162.6 321.2 163.3 321.3 164.0 321.4 164.8 321.4 165.5 321.4 166.2 322.0 166.9 323.0 167.6 323.8 168.3 324.2 169.0 324.5 169.7 324.6 170.5 324.3 171.2 324.1 171.9 324.6 172.6 325.6 173.3 326.5 174.0 327.0 174.7 327.2 175.4 327.2 176.2 327.0 176.9 326.7 177.6 327.2 178.3 328.1 179.0 328.9 179.7 329.4 180.4 329.7 181.2 329.6 181.9 329.4 182.6 329.1 183.3 329.5 184.0 330.4 184.7 331.2 185.4 331.6 186.1 331.9 186.9 331.9 187.6 331.6 188.3 331.4 189.0 331.7 189.7 332.5 190.4 333.3 191.1 333.8 191.9 334.1 192.6 334.0 193.3 333.8 194.0 333.5 194.7 333.9 195.4 334.7 196.1 335.5 196.8 335.9 197.6 336.2 198.3 336.2 199.0 335.9 199.7 335.6 200.4 336.0 201.1 336.8 201.8 337.4 202.5 337.7 203.3 337.9 204.0 337.9 204.7 337.7 205.4 337.6 206.1 337.9 206.8 338.5 207.5 339.0 208.3 339.1 209.0 339.2 209.7 339.2 210.4 339.2 211.1 339.2 211.8 339.5 212.5 339.8 213.2 339.9 346.6 339.9"/>
<path class="ln" stroke="#FF3030" d="M61.4 339.9 L118.4 339.9 118.8 339.9 119.2 339.9 119.5 339.8 119.9 339.7 120.3 339.6 120.7 339.5 121.1 339.4 121.4 339.2 121.8 337.9 122.2 334.1 122.6 329.2 123.0 323.4 123.3 315.7 123.7 309.7 124.1 307.7 124.5 306.5 124.9 304.9 125.2 302.7 125.6 300.5 126.0 298.4 126.4 296.1 126.8 293.9 127.1 292.2 127.5 291.5 128.3 291.5 128.7 291.6 129.0 291.6 129.4 291.6 129.8 291.7 130.2 291.7 130.6 291.7 131.0 291.8 131.3 291.8 131.7 291.9 132.1 291.9 132.5 291.9 132.9 291.9 133.2 292.0 136.9 292.1 137.7 292.1 138.4 292.1 139.1 292.2 142.6 292.2 143.4 292.2 144.1 292.3 144.8 292.3 148.4 292.3 149.1 292.4 149.8 292.4 154.8 292.4 155.5 292.5 159.8 292.5 160.5 292.5 161.2 292.6 161.9 292.6 162.6 292.7 163.3 292.8 164.0 292.8 164.8 292.7 165.5 292.5 166.2 292.6 166.9 293.6 167.6 294.7 168.3 295.2 169.0 295.5 169.7 295.6 170.5 295.3 171.2 295.2 171.9 295.8 172.6 296.9 173.3 298.0 174.0 298.5 174.7 298.8 175.4 298.8 176.2 298.6 176.9 298.4 177.6 299.0 178.3 300.3 179.0 301.3 179.7 301.8 180.4 302.2 181.2 302.2 181.9 301.9 182.6 301.8 183.3 302.5 184.0 303.7 184.7 304.9 185.4 305.4 186.1 305.7 186.9 305.7 187.6 305.5 188.3 305.4 189.0 306.2 189.7 307.6 190.4 308.8 191.1 309.3 191.9 309.6 192.6 309.7 193.3 309.5 194.0 309.3 194.7 310.1 195.4 311.4 196.1 312.5 196.8 313.0 197.6 313.3 198.3 313.3 199.0 313.0 199.7 312.8 200.4 313.4 201.1 314.6 201.8 315.5 202.5 316.0 203.3 316.3 204.0 316.3 204.7 316.1 205.4 315.8 206.1 316.4 206.8 317.4 207.5 318.3 208.3 318.8 209.0 319.1 209.7 319.0 210.4 318.8 211.1 318.6 211.8 319.0 212.5 319.9 213.2 320.7 214.0 321.2 214.7 321.5 215.4 321.4 216.1 321.2 216.8 320.9 217.5 321.4 218.2 322.5 219.0 323.5 219.7 324.0 220.4 324.3 221.1 324.3 221.8 324.1 222.5 323.9 223.2 324.5 223.9 325.5 224.7 326.5 225.4 326.9 226.1 327.2 226.8 327.2 227.5 327.0 228.2 326.7 228.9 327.2 229.6 328.0 230.4 328.8 231.1 329.2 231.8 329.5 232.5 329.4 233.2 329.2 233.9 329.0 234.6 329.3 235.4 330.0 236.1 330.6 236.8 331.0 237.5 331.2 238.2 331.1 238.9 330.9 239.6 330.8 240.3 331.0 241.1 331.6 241.8 332.2 242.5 332.5 243.2 332.7 243.9 332.7 244.6 332.5 245.3 332.4 246.0 332.7 246.8 333.4 247.5 334.0 248.2 334.3 248.9 334.5 249.6 334.6 250.3 334.5 251.0 334.5 251.8 334.9 252.5 335.6 253.2 336.2 253.9 336.4 254.6 336.6 255.3 336.7 256.0 336.7 256.7 336.7 257.5 337.1 258.2 337.6 258.9 338.0 259.6 338.1 260.3 338.2 261.0 338.3 261.7 338.4 262.5 338.5 263.2 338.8 263.9 339.1 264.6 339.3 265.3 339.4 266.0 339.4 266.7 339.5 267.4 339.6 268.2 339.7 268.9 339.8 269.6 339.9 346.6 339.9"/>
<path class="ln" stroke="#B02020" d="M61.4 339.9 L118.4 339.9 118.8 339.9 119.2 339.9 119.5 339.8 119.9 339.7 120.3 339.6 120.7 339.5 121.1 339.4 121.4 339.2 121.8 337.7 122.2 333.1 122.6 327.4 123.0 321.0 123.3 312.9 123.7 306.6 124.1 304.4 124.5 303.2 124.9 300.6 125.2 295.6 125.6 291.5 126.0 287.9 126.4 284.7 126.8 282.7 127.1 282.7 127.5 284.7 127.9 287.7 128.3 290.6 128.7 292.3 129.0 293.1 129.4 293.8 129.8 294.4 130.2 294.8 130.6 295.2 131.0 295.3 131.3 295.3 131.7 295.4 132.1 295.4 132.5 295.5 132.9 295.5 133.2 295.6 133.6 295.6 134.0 295.7 134.4 295.7 136.9 295.8 137.7 295.8 138.4 295.9 143.4 295.9 144.1 295.8 144.8 295.8 148.4 295.7 149.1 295.7 149.8 295.6 150.5 295.5 154.1 295.5 154.8 295.4 155.5 295.2 156.2 295.0 156.9 295.0 157.6 295.0 158.3 294.9 159.0 294.9 159.8 294.9 160.5 294.7 161.2 294.2 161.9 293.8 163.3 293.8 164.0 293.8 164.8 293.6 165.5 293.3 166.2 292.7 166.9 292.1 167.6 292.0 168.3 292.2 169.0 292.4 169.7 292.3 170.5 291.9 171.2 291.4 171.9 290.8 172.6 290.5 173.3 290.7 174.0 291.0 174.7 291.2 175.4 291.1 176.2 290.7 176.9 290.3 177.6 289.9 178.3 289.8 179.0 290.1 179.7 290.4 180.4 290.6 181.2 290.5 181.9 290.2 182.6 289.8 183.3 289.5 184.0 289.5 184.7 289.9 185.4 290.3 186.1 290.5 186.9 290.4 187.6 290.1 188.3 289.7 189.0 289.5 189.7 289.8 190.4 290.2 191.1 290.6 191.9 290.8 192.6 290.8 193.3 290.4 194.0 290.1 194.7 290.2 195.4 290.8 196.1 291.4 196.8 291.9 197.6 292.1 198.3 292.1 199.0 291.8 199.7 291.5 200.4 291.6 201.1 292.2 201.8 292.9 202.5 293.3 203.3 293.6 204.0 293.5 204.7 293.2 205.4 293.0 206.1 293.2 206.8 293.9 207.5 294.6 208.3 295.1 209.0 295.4 209.7 295.3 210.4 295.0 211.1 294.8 211.8 295.1 212.5 295.9 213.2 296.7 214.0 297.1 214.7 297.4 215.4 297.4 216.1 297.1 216.8 296.9 217.5 297.2 218.2 298.1 219.0 298.9 219.7 299.4 220.4 299.6 221.1 299.6 221.8 299.3 222.5 299.1 223.2 299.4 223.9 300.3 224.7 301.1 225.4 301.6 226.1 301.9 226.8 301.8 227.5 301.6 228.2 301.3 228.9 301.7 229.6 302.5 230.4 303.3 231.1 303.8 231.8 304.0 232.5 304.0 233.2 303.8 233.9 303.5 234.6 303.9 235.4 304.6 236.1 305.3 236.8 305.6 237.5 305.8 238.2 305.8 238.9 305.6 239.6 305.4 240.3 305.7 241.1 306.3 241.8 306.9 242.5 307.2 243.2 307.4 243.9 307.4 244.6 307.2 245.3 307.1 246.0 307.3 246.8 307.9 247.5 308.4 248.2 308.7 248.9 308.8 249.6 308.8 250.3 308.7 251.0 308.7 251.8 308.9 252.5 309.4 253.2 309.9 253.9 310.1 254.6 310.3 255.3 310.3 256.0 310.2 256.7 310.2 257.5 310.5 258.2 310.9 258.9 311.2 259.6 311.4 260.3 311.5 261.0 311.6 262.5 311.6 263.2 311.8 263.9 312.1 264.6 312.4 265.3 312.5 266.0 312.6 266.7 312.7 267.4 312.7 268.2 312.7 268.9 312.9 269.6 313.1 270.3 313.4 271.0 313.5 271.7 313.7 272.4 313.7 273.1 313.8 273.9 313.8 274.6 313.9 275.3 314.1 276.0 314.3 276.7 314.5 277.4 314.6 278.1 314.7 279.6 314.7 280.3 314.8 281.0 315.0 281.7 315.2 282.4 315.3 283.1 315.5 283.8 315.5 285.3 315.5 286.0 315.6 286.7 315.8 287.4 316.0 288.1 316.1 288.8 316.3 289.6 316.3 291.0 316.3 291.7 316.4 292.4 316.6 293.1 316.8 293.8 316.9 294.5 317.0 295.3 317.1 296.7 317.1 297.4 317.2 298.1 317.3 298.8 317.5 299.5 317.7 300.2 317.8 301.0 317.9 302.4 317.9 303.1 317.9 303.8 318.1 304.5 318.3 305.2 318.4 306.0 318.6 306.7 318.6 308.1 318.6 308.8 318.7 309.5 318.8 310.2 319.0 310.9 319.2 311.7 319.3 312.4 319.3 313.8 319.3 314.5 319.4 315.2 319.6 315.9 319.7 316.6 319.9 317.4 320.0 318.1 320.1 319.5 320.1 320.2 320.1 320.9 320.3 321.6 320.4 322.4 320.6 323.1 320.7 323.8 320.7 325.2 320.7 325.9 320.8 326.6 321.0 327.3 321.1 328.1 321.3 328.8 321.4 329.5 321.4 330.9 321.4 331.6 321.5 332.3 321.6 333.1 321.8 333.8 321.9 334.5 322.0 335.2 322.1 336.6 322.1 337.3 322.1 338.0 322.3 338.8 322.4 339.5 322.6 340.2 322.7 340.9 322.7 342.3 322.7 343.0 322.8 343.7 322.9 344.5 323.1 345.2 323.2 345.9 323.3 346.6 323.3"/>
<g id="icon-periphyton"><path d="M61.8 381.9 L63.5 374.3 L66.4 369.0 L68.8 363.8 L69.9 359.1 L71.1 356.2 L71.9 350.4 L74.0 349.0 L76.6 347.8 L77.3 344.5 L79.3 340.4 L80.7 338.4 L81.4 341.0 L81.0 344.5 L82.4 345.9 L84.0 343.3 L86.3 341.9 L87.1 345.1 L86.9 347.1 L89.5 345.7 L91.0 346.3 L91.8 348.8 L93.9 349.0 L97.4 347.1 L100.3 345.4 L102.3 345.7 L101.8 348.6 L100.3 350.4 L103.2 351.5 L104.8 352.1 L102.1 353.3 L99.2 353.9 L98.6 356.8 L99.2 358.5 L103.2 359.1 L106.7 357.4 L110.0 355.0 L109.1 357.9 L106.2 361.1 L102.1 363.4 L96.2 365.3 L92.7 364.6 L89.2 363.8 L85.7 365.8 L81.0 368.8 L75.2 372.8 L71.1 376.1 L68.8 377.5 L67.6 380.1 L65.9 381.3 L63.5 382.5Z" fill="#8db32d" stroke="#8db32d" stroke-width="0.7" stroke-linejoin="round"/><path d="M63.5 380.7 L67.6 371.4 L71.1 363.2M65.3 380.7 L69.4 373.1 L74.0 365.5M67.0 379.0 L71.1 373.7 L75.8 369.0M68.8 369.0 L71.1 362.0 L73.5 357.4" stroke="#fff" stroke-width="0.35" fill="none" opacity="0.55"/></g>
<text class="lt" style="font-size:13.6px;text-anchor:end" transform="translate(358.4 372.9) scale(0.9 1)">e)</text>
<rect x="46.6" y="278.6" width="314.8" height="103.5" fill="none" stroke="#333" stroke-width="1.25"/>
<rect x="46.6" y="258.7" width="314.8" height="19.9" fill="#d9d9d9" stroke="#333" stroke-width="1.25"/>
<text class="st" x="205.7" y="273.50">Periphyton</text>
<text class="tk" text-anchor="end" x="41.0" y="383.5">-100</text>
<text class="tk" text-anchor="end" x="41.0" y="363.7">-50</text>
<text class="tk" text-anchor="end" x="41.0" y="343.9">0</text>
<text class="tk" text-anchor="end" x="41.0" y="324.1">50</text>
<text class="tk" text-anchor="end" x="41.0" y="304.2">100</text>
<text class="tk" text-anchor="end" x="41.0" y="284.4">150</text>
<path d="M43.4 379.5H46.6M43.4 359.7H46.6M43.4 339.9H46.6M43.4 320.1H46.6M43.4 300.2H46.6M43.4 280.4H46.6" stroke="#333" stroke-width="1.1" fill="none"/>
</g>
<g id="panel-f">
<rect x="368.2" y="278.6" width="314.3" height="103.5" fill="#fff"/>
<path d="M368.2 379.5H682.5M368.2 359.7H682.5M368.2 339.9H682.5M368.2 320.1H682.5M368.2 300.2H682.5M368.2 280.4H682.5M382.5 278.6V382.1M411.0 278.6V382.1M439.6 278.6V382.1M468.2 278.6V382.1M496.8 278.6V382.1M525.3 278.6V382.1M553.9 278.6V382.1M582.5 278.6V382.1M611.0 278.6V382.1M639.6 278.6V382.1M668.2 278.6V382.1" stroke="#eaeaea" stroke-width="1.4" fill="none"/>
<path d="M368.2 339.9H439.6M439.6 339.9H682.5" stroke="#000" stroke-width="1.4" stroke-dasharray="5.9 3.46" fill="none"/>
<path d="M439.6 278.6V382.1" stroke="#000" stroke-width="1.45" stroke-dasharray="5.5 2.1" stroke-dashoffset="5.9" fill="none"/>
<path class="ln" stroke="#FF9200" d="M382.5 339.9 L439.6 339.9 440.4 339.9 440.7 339.8 441.1 339.8 441.5 339.7 441.9 339.7 442.3 339.6 442.6 339.4 443.0 338.6 443.4 337.3 443.8 335.6 444.2 332.7 444.6 327.7 444.9 323.7 445.3 322.3 445.7 321.3 446.1 320.4 446.5 319.6 446.8 319.1 447.2 318.7 447.6 318.5 448.7 318.5 449.1 318.5 449.5 318.6 449.9 318.6 450.3 318.7 450.6 318.7 451.0 318.7 451.4 318.8 451.8 318.8 452.2 318.9 452.6 318.9 452.9 319.0 453.3 319.0 453.7 319.1 454.1 319.1 454.5 319.1 454.8 319.2 455.2 319.2 455.6 319.2 456.0 319.3 456.4 319.3 456.7 319.3 457.5 319.3 458.2 319.4 458.9 319.4 459.6 319.5 460.3 319.6 461.0 319.6 461.7 319.6 462.5 319.7 463.2 319.7 463.9 319.7 464.6 319.8 465.3 319.9 466.0 320.0 466.7 320.0 467.5 320.1 468.2 320.1 468.9 320.1 469.6 320.2 470.3 320.3 471.0 320.5 471.7 320.6 472.5 320.7 473.2 320.8 473.9 320.8 474.6 320.9 475.3 321.0 476.0 321.2 476.7 321.5 477.5 321.7 478.2 321.8 478.9 321.9 479.6 322.0 480.3 322.1 481.0 322.2 481.7 322.5 482.5 322.8 483.2 323.1 483.9 323.3 484.6 323.5 485.3 323.6 486.0 323.8 486.7 324.0 487.5 324.5 488.2 325.0 488.9 325.5 489.6 325.7 490.3 325.9 491.0 326.1 491.7 326.3 492.5 326.6 493.2 327.0 493.9 327.6 494.6 327.9 495.3 328.1 496.0 328.3 496.8 328.5 497.5 328.7 498.2 328.9 498.9 329.3 499.6 329.7 500.3 330.1 501.0 330.3 501.8 330.4 502.5 330.6 503.2 330.8 503.9 330.9 504.6 331.3 505.3 331.7 506.0 332.1 506.8 332.2 507.5 332.4 508.2 332.5 508.9 332.7 509.6 332.8 510.3 333.2 511.0 333.5 511.8 333.8 512.5 334.0 513.2 334.1 513.9 334.3 514.6 334.4 515.3 334.5 516.0 334.9 516.8 335.2 517.5 335.5 518.2 335.7 518.9 335.8 519.6 335.9 520.3 336.1 521.0 336.2 521.8 336.6 522.5 336.9 523.2 337.2 523.9 337.4 524.6 337.5 525.3 337.7 526.0 337.8 526.8 337.9 527.5 338.2 528.2 338.6 528.9 338.8 529.6 338.9 530.3 339.0 531.0 339.2 531.8 339.3 532.5 339.4 533.2 339.7 533.9 339.9 534.6 339.9 668.2 339.9"/>
<path class="ln" stroke="#FF3030" d="M382.5 339.9 L439.6 339.9 440.4 339.9 440.7 339.8 441.1 339.8 441.5 339.7 441.9 339.7 442.3 339.6 442.6 339.3 443.0 338.0 443.4 336.1 443.8 333.9 444.2 330.1 444.6 325.6 444.9 322.3 445.3 321.7 445.7 321.8 446.1 322.0 446.5 322.2 446.8 322.6 447.2 322.9 447.6 323.2 448.0 323.7 448.4 324.2 448.7 324.9 449.1 325.6 449.5 326.3 449.9 327.1 450.3 327.7 450.6 328.3 451.0 328.8 451.4 329.2 451.8 329.6 452.2 330.0 452.6 330.4 452.9 330.7 453.3 331.0 453.7 331.3 454.1 331.5 454.5 331.6 456.4 331.5 456.7 331.5 457.5 331.5 458.2 331.4 458.9 331.3 459.6 331.1 460.3 331.0 461.0 330.9 461.7 330.8 462.5 330.8 463.2 330.7 463.9 330.6 464.6 330.4 465.3 330.1 466.0 329.9 466.7 329.8 467.5 329.6 468.2 329.5 468.9 329.5 469.6 329.4 470.3 329.2 471.0 329.0 471.7 328.8 472.5 328.8 473.2 328.7 473.9 328.6 474.6 328.6 475.3 328.5 476.0 328.3 476.7 328.2 477.5 328.0 478.2 327.9 478.9 327.9 479.6 327.8 480.3 327.7 481.0 327.6 481.7 327.4 482.5 327.1 483.2 326.8 483.9 326.7 484.6 326.5 485.3 326.3 486.0 326.1 486.7 325.9 487.5 325.4 488.2 324.8 488.9 324.4 489.6 324.2 490.3 324.0 491.0 323.8 491.7 323.7 492.5 323.5 493.2 323.1 493.9 322.7 494.6 322.4 495.3 322.2 496.0 322.1 496.8 322.0 497.5 321.8 498.2 321.7 498.9 321.4 499.6 321.0 500.3 320.8 501.0 320.7 501.8 320.7 502.5 320.6 503.2 320.5 503.9 320.4 504.6 320.2 505.3 320.0 506.0 319.8 506.8 319.7 507.5 319.7 508.2 319.6 508.9 319.6 509.6 319.5 510.3 319.4 511.0 319.3 511.8 319.3 514.6 319.3 515.3 319.3 516.0 319.4 516.8 319.5 517.5 319.6 518.2 319.6 518.9 319.7 519.6 319.7 520.3 319.8 521.0 319.9 521.8 320.0 522.5 320.1 523.2 320.3 523.9 320.3 524.6 320.4 525.3 320.5 526.0 320.6 526.8 320.7 527.5 320.9 528.2 321.2 528.9 321.5 529.6 321.6 530.3 321.7 531.0 321.8 531.8 322.0 532.5 322.1 533.2 322.5 533.9 322.9 534.6 323.2 535.3 323.3 536.0 323.5 536.8 323.6 537.5 323.8 538.2 324.0 538.9 324.5 539.6 325.1 540.3 325.6 541.0 325.9 541.8 326.2 542.5 326.4 543.2 326.7 543.9 327.0 544.6 327.7 545.3 328.4 546.0 329.0 546.8 329.3 547.5 329.5 548.2 329.8 548.9 330.0 549.6 330.3 550.3 330.8 551.0 331.2 551.8 331.5 552.5 331.7 553.2 331.8 553.9 331.9 554.6 332.0 555.3 332.2 556.0 332.4 556.8 332.7 557.5 332.9 558.2 332.9 558.9 333.0 559.6 333.1 560.3 333.2 561.0 333.3 561.8 333.5 562.5 333.8 563.2 334.0 563.9 334.1 564.6 334.2 565.3 334.3 566.0 334.5 566.8 334.6 567.5 334.8 568.2 335.1 568.9 335.3 569.6 335.5 570.3 335.6 571.0 335.7 571.8 335.8 572.5 335.9 573.2 336.2 573.9 336.5 574.6 336.7 575.3 336.8 576.0 336.9 576.8 337.1 577.5 337.2 578.2 337.4 578.9 337.6 579.6 337.9 580.3 338.1 581.0 338.3 581.8 338.4 582.5 338.5 583.2 338.7 583.9 338.8 584.6 339.0 585.3 339.2 586.0 339.4 586.8 339.5 587.5 339.6 588.2 339.7 588.9 339.8 589.6 339.9 590.3 339.9 668.2 339.9"/>
<path class="ln" stroke="#B02020" d="M382.5 339.9 L439.6 339.9 440.0 339.9 440.4 339.8 440.7 339.8 441.1 339.6 441.5 339.5 441.9 339.3 442.3 338.9 442.6 336.1 443.0 331.9 443.4 328.6 443.8 327.9 444.2 327.8 444.6 327.7 444.9 327.6 445.3 328.4 445.7 331.1 446.1 334.7 446.5 337.9 446.8 340.8 447.2 343.8 447.6 346.6 448.0 348.7 448.4 350.0 448.7 351.0 449.1 352.0 449.5 352.7 449.9 353.3 450.3 353.6 450.6 353.6 451.0 353.5 451.4 353.4 451.8 353.2 452.2 353.0 452.6 352.8 452.9 352.6 453.3 352.4 453.7 352.3 454.1 352.1 454.5 351.9 454.8 351.8 455.2 351.6 455.6 351.5 456.0 351.4 456.4 351.3 456.7 351.2 457.5 351.0 458.2 350.9 458.9 350.7 459.6 350.6 460.3 350.5 461.0 350.5 461.7 350.4 462.5 350.4 463.2 350.3 463.9 350.3 464.6 350.2 465.3 350.2 466.0 350.1 466.7 350.1 467.5 350.0 468.2 350.0 468.9 349.9 469.6 349.9 470.3 349.8 471.0 349.7 471.7 349.6 472.5 349.5 473.2 349.5 473.9 349.4 474.6 349.4 475.3 349.3 476.0 349.2 476.7 349.0 477.5 348.9 478.2 348.8 478.9 348.8 479.6 348.7 480.3 348.6 481.0 348.5 481.7 348.4 482.5 348.1 483.2 347.9 483.9 347.7 484.6 347.6 485.3 347.4 486.0 347.3 486.7 347.1 487.5 346.6 488.2 346.0 488.9 345.6 489.6 345.3 490.3 345.1 491.0 344.9 491.7 344.7 492.5 344.4 493.2 343.9 493.9 343.3 494.6 342.8 495.3 342.6 496.0 342.4 496.8 342.1 497.5 341.9 498.2 341.6 498.9 341.1 499.6 340.4 500.3 339.9 501.0 339.6 501.8 339.4 502.5 339.1 503.2 338.8 503.9 338.5 504.6 337.9 505.3 337.1 506.0 336.5 506.8 336.2 507.5 335.9 508.2 335.7 508.9 335.4 509.6 335.1 510.3 334.5 511.0 333.8 511.8 333.3 512.5 333.0 513.2 332.8 513.9 332.5 514.6 332.3 515.3 332.0 516.0 331.5 516.8 330.9 517.5 330.4 518.2 330.2 518.9 330.0 519.6 329.8 520.3 329.6 521.0 329.3 521.8 328.8 522.5 328.2 523.2 327.8 523.9 327.6 524.6 327.3 525.3 327.1 526.0 326.9 526.8 326.7 527.5 326.3 528.2 325.8 528.9 325.5 529.6 325.3 530.3 325.2 531.0 325.0 531.8 324.9 532.5 324.8 533.2 324.5 533.9 324.1 534.6 323.9 535.3 323.8 536.0 323.7 536.8 323.5 537.5 323.4 538.2 323.3 538.9 323.1 539.6 322.9 540.3 322.7 541.0 322.6 541.8 322.6 542.5 322.5 543.2 322.4 543.9 322.4 544.6 322.2 545.3 322.0 546.0 321.9 546.8 321.9 547.5 321.8 548.2 321.8 548.9 321.7 549.6 321.6 550.3 321.5 551.0 321.4 551.8 321.3 552.5 321.3 553.2 321.3 553.9 321.2 554.6 321.2 555.3 321.1 556.0 321.1 556.8 321.0 557.5 320.9 558.2 320.9 558.9 320.9 559.6 320.8 560.3 320.8 561.0 320.8 561.8 320.7 562.5 320.6 563.2 320.6 563.9 320.6 564.6 320.5 565.3 320.5 566.0 320.5 566.8 320.4 567.5 320.4 568.2 320.3 568.9 320.3 578.9 320.4 579.6 320.4 583.9 320.5 584.6 320.5 585.3 320.5 586.0 320.5 587.5 320.6 588.2 320.6 588.9 320.6 589.6 320.6 590.3 320.7 591.0 320.7 591.8 320.8 592.5 320.8 593.2 320.9 593.9 320.9 594.6 320.9 595.3 321.0 596.0 321.0 596.8 321.1 597.5 321.1 598.2 321.2 598.9 321.2 599.6 321.3 600.3 321.3 601.0 321.3 601.8 321.4 602.5 321.5 603.2 321.5 603.9 321.5 604.6 321.6 605.3 321.6 606.0 321.7 606.8 321.7 607.5 321.8 608.2 321.8 608.9 321.9 609.6 321.9 610.3 322.0 611.0 322.0 611.8 322.1 612.5 322.1 613.2 322.2 613.9 322.2 614.6 322.3 615.3 322.3 616.1 322.3 616.8 322.4 617.5 322.4 618.2 322.5 618.9 322.5 619.6 322.6 620.3 322.6 621.1 322.7 621.8 322.7 622.5 322.8 623.2 322.8 623.9 322.8 624.6 322.9 625.3 322.9 626.1 323.0 626.8 323.0 627.5 323.1 628.2 323.1 628.9 323.2 629.6 323.2 630.3 323.3 631.1 323.3 631.8 323.4 632.5 323.4 633.2 323.4 633.9 323.5 634.6 323.5 635.3 323.6 636.1 323.6 636.8 323.7 637.5 323.7 638.2 323.8 638.9 323.8 639.6 323.9 640.3 323.9 641.1 324.0 641.8 324.0 642.5 324.1 643.2 324.1 643.9 324.2 644.6 324.2 645.3 324.3 646.1 324.3 646.8 324.4 647.5 324.4 648.2 324.5 648.9 324.6 649.6 324.6 650.3 324.7 651.1 324.7 651.8 324.8 652.5 324.8 653.2 324.9 653.9 324.9 654.6 325.0 655.3 325.0 656.1 325.1 656.8 325.1 657.5 325.2 658.2 325.2 658.9 325.3 659.6 325.4 660.3 325.4 661.1 325.5 661.8 325.5 662.5 325.6 663.2 325.6 663.9 325.7 664.6 325.7 665.3 325.8 666.1 325.9 666.8 325.9 667.5 326.0 668.2 326.0"/>
<g id="icon-mayfly"><path d="M386.7 358.5 L387.3 350.5 L379.1 345.3M393.7 357.3 L396.0 350.5 L389.6 344.7M381.1 362.0 L377.9 356.9 L370.9 359.9M384.4 368.0 L383.8 372.7 L380.3 376.4M390.2 368.6 L395.5 373.9 L391.4 380.3M398.4 366.9 L406.0 371.0 L406.6 377.4" stroke="#c9965a" stroke-width="1.1" fill="none" stroke-linejoin="round" stroke-linecap="round"/><path d="M386.7 358.5 L387.3 350.5M393.7 357.3 L396.0 350.5M381.1 362.0 L377.9 356.9M384.4 368.0 L383.8 372.7M390.2 368.6 L395.5 373.9M398.4 366.9 L406.0 371.0" stroke="#cf9c62" stroke-width="2.0" fill="none" stroke-linecap="round"/><path d="M418.8 357.8 L438.1 350.5M418.8 358.1 L442.8 354.6M418.8 358.5 L438.1 360.6" stroke="#777" stroke-width="0.35" fill="none"/><path d="M378.7 365.1 L379.7 362.2 L382.6 360.1 L391.4 357.5 L405.4 355.9 L414.7 356.1 L419.4 357.8 L415.9 361.3 L403.0 365.1 L389.0 368.0 L382.6 368.7 L379.7 368.0Z" fill="#da8751" stroke="#c6743f" stroke-width="0.5" stroke-linejoin="round"/><path d="M383.2 365.1L403.0 361.0" stroke="#a85f33" stroke-width="0.5"/><circle cx="380.9" cy="362.9" r="0.95" fill="#000"/><circle cx="382.7" cy="367.1" r="0.95" fill="#000"/></g>
<text class="lt" style="font-size:13.6px;text-anchor:end" transform="translate(677.9 374.9) scale(0.9 1)">f)</text>
<rect x="368.2" y="278.6" width="314.3" height="103.5" fill="none" stroke="#333" stroke-width="1.25"/>
<rect x="368.2" y="258.7" width="314.3" height="19.9" fill="#d9d9d9" stroke="#333" stroke-width="1.25"/>
<text class="st" x="527.0" y="273.50">Algivores</text>
</g>
<g id="panel-g">
<rect x="46.6" y="405.4" width="314.8" height="104.1" fill="#fff"/>
<path d="M46.6 506.6H361.4M46.6 486.8H361.4M46.6 467.0H361.4M46.6 447.2H361.4M46.6 427.4H361.4M46.6 407.5H361.4M61.3 405.4V509.5M89.9 405.4V509.5M118.5 405.4V509.5M147.1 405.4V509.5M175.7 405.4V509.5M204.3 405.4V509.5M232.9 405.4V509.5M261.5 405.4V509.5M290.1 405.4V509.5M318.7 405.4V509.5M347.3 405.4V509.5" stroke="#eaeaea" stroke-width="1.4" fill="none"/>
<path d="M46.6 467.0H118.5M118.5 467.0H361.4" stroke="#000" stroke-width="1.4" stroke-dasharray="5.9 3.46" fill="none"/>
<path d="M118.5 405.4V509.5" stroke="#000" stroke-width="1.45" stroke-dasharray="5.5 2.1" stroke-dashoffset="5.9" fill="none"/>
<path class="ln" stroke="#FF9200" d="M61.3 467.0 L118.5 467.0 119.3 467.0 119.6 467.0 120.0 466.9 120.4 466.9 120.8 466.8 121.2 466.7 121.6 466.6 121.9 466.3 122.3 465.1 122.7 463.3 123.1 461.1 123.5 456.5 123.8 450.0 124.2 445.2 124.6 442.7 125.0 440.8 125.4 439.6 125.7 439.0 126.1 438.5 126.5 438.1 126.9 437.8 127.3 437.6 127.7 437.5 128.0 437.4 128.4 437.4 128.8 437.3 129.2 437.3 129.6 437.2 129.9 437.2 130.3 437.1 130.7 437.1 131.1 437.1 131.5 437.1 131.8 437.0 132.2 437.0 132.6 437.0 133.0 437.0 137.1 436.8 137.8 436.8 138.5 436.8 139.2 436.7 147.8 436.6 148.5 436.7 149.2 436.8 150.0 436.9 150.7 437.0 151.4 437.1 152.1 437.2 152.8 437.3 153.5 437.3 154.2 437.5 155.0 437.7 155.7 438.1 156.4 438.4 157.1 438.6 157.8 438.7 158.5 438.9 159.3 439.0 160.0 439.2 160.7 439.6 161.4 440.1 162.1 440.6 162.8 440.8 163.5 441.0 164.3 441.2 165.0 441.4 165.7 441.6 166.4 442.2 167.1 442.8 167.8 443.3 168.6 443.5 169.3 443.8 170.0 444.0 170.7 444.3 171.4 444.6 172.1 445.3 172.8 446.1 173.6 446.7 174.3 447.0 175.0 447.3 175.7 447.5 176.4 447.8 177.1 448.1 177.8 448.8 178.6 449.5 179.3 450.1 180.0 450.4 180.7 450.6 181.4 450.9 182.1 451.2 182.8 451.5 183.6 452.1 184.3 452.8 185.0 453.4 185.7 453.6 186.4 453.9 187.1 454.2 187.9 454.4 188.6 454.7 189.3 455.3 190.0 455.9 190.7 456.4 191.4 456.7 192.1 456.9 192.9 457.2 193.6 457.4 194.3 457.7 195.0 458.2 195.7 458.8 196.4 459.3 197.1 459.5 197.9 459.7 198.6 459.9 199.3 460.1 200.0 460.3 200.7 460.8 201.4 461.4 202.2 461.8 202.9 462.0 203.6 462.1 204.3 462.3 205.0 462.5 205.7 462.7 206.4 463.2 207.2 463.7 207.9 464.0 208.6 464.2 209.3 464.4 210.0 464.6 210.7 464.8 211.4 465.0 212.2 465.4 212.9 465.9 213.6 466.2 214.3 466.3 215.0 466.4 215.7 466.5 216.5 466.6 217.2 466.8 217.9 467.0 218.6 467.0 347.3 467.0"/>
<path class="ln" stroke="#FF3030" d="M61.3 467.0 L118.5 467.0 119.3 467.0 119.6 467.0 120.0 466.9 120.4 466.9 120.8 466.8 121.2 466.7 121.6 466.6 121.9 466.3 122.3 465.2 122.7 463.5 123.1 461.4 123.5 457.5 123.8 451.9 124.2 448.0 124.6 446.1 125.0 444.8 125.4 444.0 125.7 443.6 126.1 443.4 126.5 443.2 126.9 443.3 127.3 443.8 127.7 444.5 128.0 445.4 128.4 446.3 128.8 447.2 129.2 448.1 129.6 449.2 129.9 450.3 130.3 451.2 130.7 451.9 131.1 452.5 131.5 453.1 131.8 453.6 132.2 453.9 132.6 454.1 133.4 454.1 133.8 454.1 134.1 454.1 134.5 454.0 134.9 454.0 135.3 454.0 135.7 453.9 136.4 453.9 137.1 453.8 137.8 453.6 138.5 453.5 139.2 453.3 139.9 453.2 140.7 453.2 141.4 453.1 142.1 453.0 142.8 452.9 143.5 452.7 144.2 452.5 145.0 452.3 145.7 452.2 146.4 452.1 147.1 452.0 147.8 451.9 148.5 451.8 149.2 451.6 150.0 451.4 150.7 451.2 151.4 451.1 152.1 451.0 152.8 450.9 153.5 450.8 154.2 450.7 155.0 450.5 155.7 450.2 156.4 449.9 157.1 449.8 157.8 449.7 158.5 449.6 159.3 449.4 160.0 449.3 160.7 449.0 161.4 448.5 162.1 448.1 162.8 447.8 163.5 447.6 164.3 447.4 165.0 447.1 165.7 446.8 166.4 446.2 167.1 445.5 167.8 445.0 168.6 444.7 169.3 444.5 170.0 444.2 170.7 444.0 171.4 443.7 172.1 443.1 172.8 442.4 173.6 441.9 174.3 441.6 175.0 441.3 175.7 441.1 176.4 440.9 177.1 440.6 177.8 440.1 178.6 439.6 179.3 439.3 180.0 439.1 180.7 439.0 181.4 438.9 182.1 438.7 182.8 438.6 183.6 438.3 184.3 438.1 185.0 437.9 185.7 437.8 186.4 437.7 187.1 437.7 187.9 437.6 188.6 437.5 189.3 437.3 190.0 437.2 190.7 437.1 191.4 437.1 194.3 437.1 195.0 437.2 195.7 437.3 196.4 437.3 197.1 437.4 197.9 437.4 198.6 437.5 199.3 437.5 200.0 437.6 200.7 437.7 201.4 437.9 202.2 438.0 202.9 438.1 203.6 438.2 204.3 438.3 205.0 438.4 205.7 438.5 206.4 438.8 207.2 439.1 207.9 439.4 208.6 439.6 209.3 439.7 210.0 439.9 210.7 440.1 211.4 440.2 212.2 440.6 212.9 441.1 213.6 441.5 214.3 441.7 215.0 441.9 215.7 442.2 216.5 442.4 217.2 442.6 217.9 443.2 218.6 444.0 219.3 444.6 220.0 444.9 220.7 445.2 221.5 445.5 222.2 445.8 222.9 446.1 223.6 446.8 224.3 447.6 225.0 448.2 225.8 448.5 226.5 448.8 227.2 449.0 227.9 449.3 228.6 449.7 229.3 450.3 230.0 451.0 230.8 451.6 231.5 451.8 232.2 452.1 232.9 452.3 233.6 452.6 234.3 452.9 235.0 453.4 235.8 454.1 236.5 454.6 237.2 454.8 237.9 455.0 238.6 455.3 239.3 455.5 240.1 455.7 240.8 456.2 241.5 456.8 242.2 457.2 242.9 457.4 243.6 457.6 244.3 457.8 245.1 458.0 245.8 458.2 246.5 458.6 247.2 459.1 247.9 459.5 248.6 459.7 249.3 459.9 250.1 460.1 250.8 460.3 251.5 460.5 252.2 460.9 252.9 461.3 253.6 461.6 254.3 461.8 255.1 462.0 255.8 462.2 256.5 462.4 257.2 462.6 257.9 463.0 258.6 463.3 259.4 463.7 260.1 463.9 260.8 464.1 261.5 464.3 262.2 464.5 262.9 464.7 263.6 465.0 264.4 465.3 265.1 465.6 265.8 465.7 266.5 465.9 267.2 466.0 267.9 466.1 268.6 466.3 269.4 466.5 270.1 466.7 270.8 466.8 271.5 466.9 272.2 467.0 347.3 467.0"/>
<path class="ln" stroke="#B02020" d="M61.3 467.0 L118.5 467.0 118.9 467.0 119.3 466.9 119.6 466.9 120.0 466.7 120.4 466.6 120.8 466.4 121.2 466.0 121.6 463.6 121.9 460.1 122.3 457.9 122.7 456.3 123.1 455.2 123.5 454.9 123.8 455.5 124.2 456.5 124.6 457.7 125.0 458.9 125.4 460.5 125.7 462.4 126.1 464.4 126.5 466.4 126.9 468.4 127.3 470.7 127.7 472.9 128.0 474.9 128.4 476.5 128.8 477.9 129.2 479.1 129.6 480.3 129.9 481.4 130.3 482.5 130.7 483.7 131.1 485.0 131.5 486.1 131.8 487.0 132.2 487.6 132.6 488.1 133.0 488.5 133.4 488.9 133.8 489.2 134.1 489.4 134.5 489.5 134.9 489.6 135.3 489.6 135.7 489.6 136.4 489.7 137.1 489.7 137.8 489.7 138.5 489.8 142.8 489.8 143.5 489.8 144.2 489.7 145.0 489.7 145.7 489.7 146.4 489.6 147.1 489.6 147.8 489.6 148.5 489.6 149.2 489.5 150.0 489.4 150.7 489.3 151.4 489.3 152.1 489.3 152.8 489.2 153.5 489.2 154.2 489.1 155.0 489.0 155.7 488.8 156.4 488.7 157.1 488.6 157.8 488.5 158.5 488.4 159.3 488.4 160.0 488.3 160.7 488.1 161.4 487.8 162.1 487.5 162.8 487.3 163.5 487.2 164.3 487.0 165.0 486.8 165.7 486.6 166.4 486.2 167.1 485.7 167.8 485.2 168.6 485.0 169.3 484.8 170.0 484.6 170.7 484.3 171.4 484.0 172.1 483.4 172.8 482.7 173.6 482.1 174.3 481.8 175.0 481.4 175.7 481.1 176.4 480.8 177.1 480.4 177.8 479.6 178.6 478.6 179.3 477.8 180.0 477.4 180.7 477.1 181.4 476.7 182.1 476.4 182.8 476.0 183.6 475.2 184.3 474.2 185.0 473.4 185.7 473.0 186.4 472.7 187.1 472.3 187.9 471.9 188.6 471.4 189.3 470.5 190.0 469.3 190.7 468.3 191.4 467.8 192.1 467.3 192.9 466.8 193.6 466.4 194.3 465.8 195.0 464.7 195.7 463.3 196.4 462.3 197.1 461.8 197.9 461.4 198.6 460.9 199.3 460.4 200.0 459.9 200.7 458.7 201.4 457.4 202.2 456.4 202.9 456.0 203.6 455.5 204.3 455.0 205.0 454.6 205.7 454.0 206.4 453.0 207.2 451.9 207.9 451.1 208.6 450.7 209.3 450.3 210.0 449.9 210.7 449.5 211.4 449.1 212.2 448.2 212.9 447.2 213.6 446.5 214.3 446.2 215.0 445.8 215.7 445.5 216.5 445.2 217.2 444.9 217.9 444.2 218.6 443.6 219.3 443.1 220.0 442.8 220.7 442.6 221.5 442.4 222.2 442.1 222.9 441.9 223.6 441.4 224.3 440.9 225.0 440.5 225.8 440.3 226.5 440.2 227.2 440.0 227.9 439.9 228.6 439.7 229.3 439.4 230.0 439.1 230.8 439.0 231.5 438.9 232.2 438.8 232.9 438.7 233.6 438.6 234.3 438.5 235.0 438.4 235.8 438.2 236.5 438.1 237.2 438.0 237.9 438.0 238.6 437.9 239.3 437.9 240.1 437.8 240.8 437.7 241.5 437.6 242.2 437.5 242.9 437.5 243.6 437.5 244.3 437.4 245.1 437.4 245.8 437.3 246.5 437.3 247.2 437.2 247.9 437.1 248.6 437.1 257.9 437.1 258.6 437.2 262.9 437.2 263.6 437.3 264.4 437.3 265.1 437.3 265.8 437.3 266.5 437.4 267.2 437.4 267.9 437.4 268.6 437.4 269.4 437.5 270.1 437.5 270.8 437.6 271.5 437.6 272.2 437.6 272.9 437.7 273.7 437.7 274.4 437.7 275.1 437.8 275.8 437.9 276.5 438.0 277.2 438.0 277.9 438.1 278.7 438.1 279.4 438.2 280.1 438.3 280.8 438.4 281.5 438.5 282.2 438.6 282.9 438.7 283.7 438.7 284.4 438.8 285.1 438.9 285.8 439.0 286.5 439.0 287.2 439.1 288.0 439.2 288.7 439.3 289.4 439.4 290.1 439.4 290.8 439.5 291.5 439.5 292.2 439.6 293.0 439.7 293.7 439.8 294.4 439.8 295.1 439.9 295.8 440.0 296.5 440.0 297.2 440.1 298.0 440.2 298.7 440.2 299.4 440.3 300.1 440.4 300.8 440.4 301.5 440.5 302.3 440.6 303.0 440.6 303.7 440.7 304.4 440.8 305.1 440.9 305.8 440.9 306.5 441.0 307.3 441.0 308.0 441.1 308.7 441.2 309.4 441.2 310.1 441.3 310.8 441.4 311.5 441.4 312.3 441.5 313.0 441.6 313.7 441.6 314.4 441.7 315.1 441.8 315.8 441.9 316.6 441.9 317.3 442.0 318.0 442.0 318.7 442.1 319.4 442.2 320.1 442.2 320.8 442.3 321.6 442.4 322.3 442.4 323.0 442.5 323.7 442.6 324.4 442.6 325.1 442.7 325.9 442.7 326.6 442.8 327.3 442.9 328.0 443.0 328.7 443.1 329.4 443.1 330.1 443.2 330.9 443.3 331.6 443.4 332.3 443.5 333.0 443.6 333.7 443.7 334.4 443.7 335.1 443.8 335.9 443.9 336.6 444.0 337.3 444.1 338.0 444.2 338.7 444.3 339.4 444.4 340.1 444.5 340.9 444.6 341.6 444.7 342.3 444.8 343.0 444.9 343.7 445.0 344.4 445.2 345.2 445.3 345.9 445.4 346.6 445.5 347.3 445.6"/>
<g id="icon-sculpin"><path d="M63.5 488.7 L58.9 488.7 L54.8 489.9 L53.9 492.2 L55.3 494.5 L60.0 495.1 L64.1 493.9Z" fill="#b88c5a"/><path d="M63.5 488.7 L67.0 484.6 L72.9 481.7 L79.9 479.9 L84.6 481.1 L88.1 479.3 L93.9 479.6 L96.2 482.3 L103.2 484.0 L107.9 487.5 L110.8 492.2 L109.7 495.1 L104.4 496.6 L98.6 495.1 L92.7 491.0 L81.0 489.9 L69.4 491.0Z" fill="#a8958a"/><path d="M63.5 489.3 L69.4 487.5 L76.4 484.6 L84.6 482.9 L92.7 484.0 L95.1 487.5 L94.5 493.4 L90.4 496.3 L81.0 495.7 L71.7 495.1 L64.7 493.9Z" fill="#dd9361"/><path d="M84.6 481.1 L88.1 479.3 L93.9 479.6 L95.1 481.7 L86.9 482.6Z" fill="#d2875a"/><path d="M84.6 487.5 L90.4 486.4 L95.1 488.7 L98.0 493.4 L97.4 498.0 L93.9 499.4 L89.2 498.0 L85.7 495.1 L84.0 491.0Z" fill="#d7a67c"/><path d="M67.0 494.5 L81.0 495.7 L84.6 495.1 L81.0 496.6 L71.7 496.6 L67.6 495.9Z" fill="#b7a98a" opacity="0.8"/><path d="M98.0 491.0 L100.3 493.4 L104.4 495.1 L103.2 497.1 L99.2 496.3 L97.4 493.9Z" fill="#b7ddd6"/><circle cx="105.6" cy="492.8" r="1.6" fill="#d88a4a"/><circle cx="103.8" cy="491.6" r="1.2" fill="#d88a4a"/><path d="M63.5 489.9 L64.7 493.4M69.4 488.1 L71.1 492.8M74.0 486.9 L73.5 488.7M78.7 484.6 L81.0 489.3M81.0 487.5 L83.4 491.0M85.7 483.1 L88.1 484.6M90.4 483.8 L92.1 485.2M86.9 481.7 L93.9 481.4" stroke="#3d3040" stroke-width="1.5" stroke-linecap="round" fill="none" opacity="0.85"/></g>
<text class="lt" style="font-size:13.6px;text-anchor:end" transform="translate(359.3 499.0) scale(0.9 1)">g)</text>
<rect x="46.6" y="405.4" width="314.8" height="104.1" fill="none" stroke="#333" stroke-width="1.60"/>
<rect x="46.6" y="389.9" width="314.8" height="15.5" fill="#d9d9d9" stroke="#333" stroke-width="1.60"/>
<text class="st" x="202.5" y="400.80">Sculpin</text>
<text class="tk" text-anchor="end" x="41.0" y="510.6">-100</text>
<text class="tk" text-anchor="end" x="41.0" y="490.8">-50</text>
<text class="tk" text-anchor="end" x="41.0" y="471.0">0</text>
<text class="tk" text-anchor="end" x="41.0" y="451.2">50</text>
<text class="tk" text-anchor="end" x="41.0" y="431.4">100</text>
<text class="tk" text-anchor="end" x="41.0" y="411.5">150</text>
<path d="M43.4 506.6H46.6M43.4 486.8H46.6M43.4 467.0H46.6M43.4 447.2H46.6M43.4 427.4H46.6M43.4 407.5H46.6" stroke="#333" stroke-width="1.1" fill="none"/>
<text class="tk" style="font-size:11.9px" text-anchor="middle" x="61.3" y="527.2">-10</text>
<text class="tk" style="font-size:11.9px" text-anchor="middle" x="89.9" y="527.2">-5</text>
<text class="tk" style="font-size:11.9px" text-anchor="middle" x="118.5" y="527.2">0</text>
<text class="tk" style="font-size:11.9px" text-anchor="middle" x="147.1" y="527.2">5</text>
<text class="tk" style="font-size:11.9px" text-anchor="middle" x="175.7" y="527.2">10</text>
<text class="tk" style="font-size:11.9px" text-anchor="middle" x="204.3" y="527.2">15</text>
<text class="tk" style="font-size:11.9px" text-anchor="middle" x="232.9" y="527.2">20</text>
<text class="tk" style="font-size:11.9px" text-anchor="middle" x="261.5" y="527.2">25</text>
<text class="tk" style="font-size:11.9px" text-anchor="middle" x="290.1" y="527.2">30</text>
<text class="tk" style="font-size:11.9px" text-anchor="middle" x="318.7" y="527.2">35</text>
<text class="tk" style="font-size:11.9px" text-anchor="middle" x="347.3" y="527.2">40</text>
<path d="M61.3 509.5V514.8M89.9 509.5V514.8M118.5 509.5V514.8M147.1 509.5V514.8M175.7 509.5V514.8M204.3 509.5V514.8M232.9 509.5V514.8M261.5 509.5V514.8M290.1 509.5V514.8M318.7 509.5V514.8M347.3 509.5V514.8" stroke="#333" stroke-width="1.3" fill="none"/>
</g>
<g id="panel-h">
<rect x="368.2" y="405.4" width="314.3" height="104.1" fill="#fff"/>
<path d="M368.2 506.6H682.5M368.2 486.8H682.5M368.2 467.0H682.5M368.2 447.2H682.5M368.2 427.4H682.5M368.2 407.5H682.5M382.8 405.4V509.5M411.3 405.4V509.5M439.9 405.4V509.5M468.5 405.4V509.5M497.0 405.4V509.5M525.6 405.4V509.5M554.2 405.4V509.5M582.8 405.4V509.5M611.3 405.4V509.5M639.9 405.4V509.5M668.5 405.4V509.5" stroke="#eaeaea" stroke-width="1.4" fill="none"/>
<path d="M368.2 467.0H439.9M439.9 467.0H682.5" stroke="#000" stroke-width="1.4" stroke-dasharray="5.9 3.46" fill="none"/>
<path d="M439.9 405.4V509.5" stroke="#000" stroke-width="1.45" stroke-dasharray="5.5 2.1" stroke-dashoffset="5.9" fill="none"/>
<path class="ln" stroke="#FF9200" d="M382.8 467.0 L439.9 467.0 440.7 467.0 441.0 467.0 441.4 466.9 441.8 466.9 442.2 466.8 442.6 466.7 442.9 466.6 443.3 466.4 443.7 465.8 444.1 464.9 444.5 463.8 444.9 462.1 445.2 459.9 445.6 458.3 446.0 457.3 446.4 456.5 446.8 455.9 447.1 455.3 447.5 454.8 447.9 454.3 448.3 453.9 448.7 453.4 449.0 453.0 449.4 452.7 449.8 452.4 450.2 452.1 450.6 451.9 450.9 451.7 451.3 451.5 451.7 451.4 452.1 451.2 452.5 451.1 452.9 451.0 453.2 450.9 453.6 450.8 454.0 450.7 454.4 450.6 454.8 450.5 455.1 450.5 455.5 450.4 455.9 450.3 456.3 450.3 456.7 450.2 457.0 450.2 457.8 450.1 458.5 450.1 459.2 450.0 459.9 450.0 464.2 450.0 464.9 450.0 465.6 450.0 466.3 450.1 467.0 450.1 467.8 450.1 468.5 450.1 469.2 450.1 469.9 450.2 470.6 450.2 471.3 450.3 472.0 450.3 472.8 450.3 473.5 450.4 474.2 450.4 474.9 450.5 475.6 450.6 476.3 450.8 477.0 451.0 477.8 451.3 478.5 451.4 479.2 451.6 479.9 451.7 480.6 451.9 481.3 452.1 482.0 452.4 482.8 452.7 483.5 453.0 484.2 453.2 484.9 453.4 485.6 453.5 486.3 453.7 487.0 453.9 487.8 454.1 488.5 454.5 489.2 454.7 489.9 454.9 490.6 455.1 491.3 455.3 492.0 455.5 492.8 455.7 493.5 456.0 494.2 456.3 494.9 456.6 495.6 456.8 496.3 457.0 497.0 457.2 497.8 457.4 498.5 457.6 499.2 457.9 499.9 458.2 500.6 458.5 501.3 458.6 502.1 458.8 502.8 459.0 503.5 459.2 504.2 459.3 504.9 459.6 505.6 459.9 506.3 460.2 507.1 460.3 507.8 460.5 508.5 460.7 509.2 460.8 509.9 461.0 510.6 461.2 511.3 461.5 512.1 461.8 512.8 461.9 513.5 462.1 514.2 462.2 514.9 462.4 515.6 462.5 516.3 462.7 517.1 463.0 517.8 463.2 518.5 463.3 519.2 463.5 519.9 463.6 520.6 463.7 521.3 463.9 522.1 464.1 522.8 464.3 523.5 464.5 524.2 464.6 524.9 464.7 525.6 464.8 526.3 464.9 527.1 465.0 527.8 465.2 528.5 465.4 529.2 465.5 529.9 465.6 530.6 465.7 531.3 465.8 532.1 465.9 532.8 466.0 533.5 466.2 534.2 466.4 534.9 466.5 535.6 466.6 536.3 466.7 537.1 466.8 537.8 466.9 538.5 467.0 539.2 467.0 668.5 467.0"/>
<path class="ln" stroke="#FF3030" d="M382.8 467.0 L439.9 467.0 440.7 467.0 441.0 467.0 441.4 466.9 441.8 466.9 442.2 466.8 442.6 466.7 442.9 466.6 443.3 466.4 443.7 465.8 444.1 464.8 444.5 463.8 444.9 462.3 445.2 460.3 445.6 458.4 446.0 457.3 446.4 456.5 446.8 455.9 447.1 455.4 447.5 455.0 447.9 454.9 448.3 455.0 448.7 455.1 449.0 455.3 449.4 455.6 449.8 455.9 450.2 456.2 450.6 456.5 450.9 456.9 451.3 457.3 451.7 457.8 452.1 458.4 452.5 458.9 452.9 459.5 453.2 459.9 453.6 460.3 454.0 460.6 454.4 460.9 454.8 461.2 455.1 461.4 455.5 461.6 455.9 461.8 456.3 461.9 456.7 462.0 457.0 462.0 457.8 462.0 458.5 462.0 459.2 462.0 459.9 461.9 460.6 461.8 461.3 461.7 462.0 461.7 462.8 461.6 463.5 461.5 464.2 461.4 464.9 461.3 465.6 461.2 466.3 461.1 467.0 461.0 467.8 460.9 468.5 460.8 469.2 460.7 469.9 460.5 470.6 460.4 471.3 460.2 472.0 460.0 472.8 459.9 473.5 459.7 474.2 459.6 474.9 459.5 475.6 459.4 476.3 459.2 477.0 458.9 477.8 458.7 478.5 458.6 479.2 458.4 479.9 458.3 480.6 458.2 481.3 458.0 482.0 457.7 482.8 457.5 483.5 457.2 484.2 457.0 484.9 456.9 485.6 456.7 486.3 456.5 487.0 456.3 487.8 455.9 488.5 455.5 489.2 455.1 489.9 454.9 490.6 454.6 491.3 454.4 492.0 454.1 492.8 453.8 493.5 453.4 494.2 452.9 494.9 452.6 495.6 452.3 496.3 452.1 497.0 451.9 497.8 451.7 498.5 451.5 499.2 451.2 499.9 450.9 500.6 450.7 501.3 450.5 502.1 450.4 502.8 450.2 503.5 450.1 504.2 450.0 504.9 449.8 505.6 449.6 506.3 449.5 507.1 449.4 507.8 449.3 508.5 449.2 509.2 449.1 509.9 449.1 510.6 448.9 511.3 448.8 512.1 448.8 512.8 448.8 514.2 448.8 514.9 448.8 515.6 448.9 516.3 449.0 517.1 449.1 517.8 449.3 518.5 449.4 519.2 449.5 519.9 449.6 520.6 449.7 521.3 449.8 522.1 450.0 522.8 450.3 523.5 450.5 524.2 450.7 524.9 450.8 525.6 451.0 526.3 451.1 527.1 451.3 527.8 451.5 528.5 451.8 529.2 452.0 529.9 452.1 530.6 452.3 531.3 452.4 532.1 452.5 532.8 452.7 533.5 452.9 534.2 453.2 534.9 453.4 535.6 453.5 536.3 453.7 537.1 453.8 537.8 454.0 538.5 454.2 539.2 454.4 539.9 454.7 540.6 455.0 541.3 455.2 542.1 455.4 542.8 455.6 543.5 455.8 544.2 456.0 544.9 456.4 545.6 456.7 546.3 457.0 547.1 457.2 547.8 457.4 548.5 457.6 549.2 457.8 549.9 458.0 550.6 458.3 551.3 458.5 552.1 458.8 552.8 458.9 553.5 459.0 554.2 459.2 554.9 459.3 555.6 459.4 556.3 459.6 557.1 459.9 557.8 460.0 558.5 460.2 559.2 460.3 559.9 460.4 560.6 460.5 561.3 460.6 562.1 460.8 562.8 461.1 563.5 461.2 564.2 461.4 564.9 461.5 565.6 461.6 566.3 461.8 567.1 461.9 567.8 462.2 568.5 462.4 569.2 462.6 569.9 462.7 570.6 462.9 571.3 463.0 572.1 463.2 572.8 463.3 573.5 463.5 574.2 463.8 574.9 463.9 575.6 464.1 576.3 464.2 577.1 464.4 577.8 464.5 578.5 464.6 579.2 464.8 579.9 465.0 580.6 465.2 581.3 465.3 582.1 465.5 582.8 465.6 583.5 465.7 584.2 465.8 584.9 466.0 585.6 466.1 586.3 466.3 587.1 466.4 587.8 466.5 588.5 466.6 589.2 466.7 589.9 466.8 590.6 466.9 591.3 467.0 592.1 467.0 668.5 467.0"/>
<path class="ln" stroke="#B02020" d="M382.8 467.0 L439.9 467.0 440.3 467.0 440.7 466.9 441.0 466.9 441.4 466.8 441.8 466.6 442.2 466.5 442.6 466.3 442.9 466.0 443.3 465.1 443.7 464.1 444.1 463.5 444.5 463.5 444.9 463.8 445.2 464.1 445.6 464.6 446.0 465.4 446.4 466.6 446.8 468.0 447.1 469.5 447.5 470.9 447.9 472.4 448.3 473.9 448.7 475.5 449.0 477.0 449.4 478.3 449.8 479.4 450.2 480.5 450.6 481.5 450.9 482.4 451.3 483.3 451.7 484.1 452.1 484.8 452.5 485.5 452.9 486.1 453.2 486.7 453.6 487.2 454.0 487.7 454.4 488.2 454.8 488.7 455.1 489.1 455.5 489.4 455.9 489.7 456.3 489.9 456.7 490.1 457.0 490.3 457.8 490.6 458.5 490.9 459.2 491.2 459.9 491.5 460.6 491.7 461.3 491.8 462.0 491.9 462.8 491.9 463.5 492.0 464.2 492.1 464.9 492.2 465.6 492.3 466.3 492.3 467.0 492.4 474.2 492.4 474.9 492.3 475.6 492.3 476.3 492.2 477.0 492.1 477.8 492.0 478.5 492.0 479.2 491.9 479.9 491.8 480.6 491.7 481.3 491.6 482.0 491.5 482.8 491.3 483.5 491.1 484.2 491.0 484.9 490.9 485.6 490.8 486.3 490.7 487.0 490.5 487.8 490.2 488.5 489.9 489.2 489.6 489.9 489.3 490.6 489.1 491.3 488.9 492.0 488.6 492.8 488.4 493.5 488.0 494.2 487.5 494.9 487.1 495.6 486.8 496.3 486.5 497.0 486.3 497.8 485.9 498.5 485.6 499.2 485.1 499.9 484.5 500.6 484.0 501.3 483.6 502.1 483.2 502.8 482.8 503.5 482.4 504.2 482.0 504.9 481.4 505.6 480.7 506.3 480.1 507.1 479.6 507.8 479.2 508.5 478.8 509.2 478.3 509.9 477.8 510.6 477.1 511.3 476.2 512.1 475.4 512.8 474.8 513.5 474.3 514.2 473.7 514.9 473.2 515.6 472.6 516.3 471.7 517.1 470.7 517.8 469.9 518.5 469.3 519.2 468.8 519.9 468.2 520.6 467.7 521.3 467.1 522.1 466.2 522.8 465.3 523.5 464.5 524.2 464.0 524.9 463.5 525.6 463.0 526.3 462.5 527.1 462.0 527.8 461.2 528.5 460.4 529.2 459.8 529.9 459.4 530.6 459.0 531.3 458.6 532.1 458.2 532.8 457.9 533.5 457.3 534.2 456.6 534.9 456.1 535.6 455.8 536.3 455.4 537.1 455.1 537.8 454.8 538.5 454.5 539.2 454.2 539.9 453.8 540.6 453.5 541.3 453.3 542.1 453.1 542.8 453.0 543.5 452.8 544.2 452.6 544.9 452.4 545.6 452.1 546.3 451.8 547.1 451.7 547.8 451.5 548.5 451.4 549.2 451.2 549.9 451.1 550.6 450.9 551.3 450.7 552.1 450.6 552.8 450.5 553.5 450.4 554.2 450.3 554.9 450.2 555.6 450.2 556.3 450.1 557.1 450.0 557.8 449.9 558.5 449.8 559.2 449.8 559.9 449.8 560.6 449.7 561.3 449.7 562.1 449.6 562.8 449.5 563.5 449.5 564.2 449.5 564.9 449.4 565.6 449.4 566.3 449.4 572.1 449.4 572.8 449.4 573.5 449.5 574.2 449.5 574.9 449.5 575.6 449.6 576.3 449.6 577.1 449.6 577.8 449.7 578.5 449.7 579.2 449.8 579.9 449.8 580.6 449.9 581.3 449.9 582.1 450.0 582.8 450.0 583.5 450.1 584.2 450.1 584.9 450.1 585.6 450.2 586.3 450.2 587.1 450.3 587.8 450.3 588.5 450.3 589.2 450.4 589.9 450.4 590.6 450.4 591.3 450.5 592.1 450.5 592.8 450.5 593.5 450.6 594.2 450.6 594.9 450.6 595.6 450.7 596.3 450.7 597.1 450.7 597.8 450.8 598.5 450.8 599.2 450.8 599.9 450.8 600.6 450.9 601.3 450.9 602.1 450.9 602.8 451.0 603.5 451.0 604.2 451.0 604.9 451.1 605.6 451.1 606.3 451.1 607.1 451.2 607.8 451.2 608.5 451.2 609.2 451.3 609.9 451.3 610.6 451.3 611.3 451.4 612.1 451.4 612.8 451.5 613.5 451.5 614.2 451.5 614.9 451.6 615.6 451.6 616.4 451.7 617.1 451.7 617.8 451.8 618.5 451.8 619.2 451.9 619.9 451.9 620.6 452.0 621.4 452.0 622.1 452.1 622.8 452.1 623.5 452.2 624.2 452.3 624.9 452.3 625.6 452.4 626.4 452.5 627.1 452.5 627.8 452.6 628.5 452.6 629.2 452.7 629.9 452.7 630.6 452.8 631.4 452.9 632.1 452.9 632.8 453.0 633.5 453.1 634.2 453.1 634.9 453.2 635.6 453.2 636.4 453.3 637.1 453.4 637.8 453.4 638.5 453.5 639.2 453.5 639.9 453.6 640.6 453.6 641.4 453.7 642.1 453.7 642.8 453.8 643.5 453.8 644.2 453.9 644.9 453.9 645.6 454.0 646.4 454.0 647.1 454.1 647.8 454.1 648.5 454.2 649.2 454.2 649.9 454.3 650.6 454.3 651.4 454.4 652.1 454.4 652.8 454.5 653.5 454.5 654.2 454.6 654.9 454.6 655.6 454.7 656.4 454.7 657.1 454.8 657.8 454.8 658.5 454.9 659.2 454.9 659.9 455.0 660.6 455.0 661.4 455.1 662.1 455.1 662.8 455.1 663.5 455.2 664.2 455.2 664.9 455.3 665.6 455.3 666.4 455.4 667.1 455.4 667.8 455.5 668.5 455.5"/>
<g id="icon-trout"><defs><clipPath id="trc"><path d="M422.3 489.3 L428.7 486.4 L436.3 483.1 L434.9 490.4 L436.0 498.0 L428.7 495.4 L422.3 494.2ZM394.3 485.8 L397.8 481.1 L400.1 479.6 L405.6 481.7 L404.4 486.0ZM371.3 492.8 L372.7 489.9 L377.3 487.5 L385.5 485.8 L394.9 485.0 L405.4 485.8 L414.7 487.3 L422.9 488.9 L425.5 491.6 L422.9 494.4 L414.7 496.4 L405.4 497.8 L394.9 498.7 L385.5 498.3 L377.3 496.6 L372.7 494.8Z"/></clipPath><linearGradient id="trg" x1="0" y1="0" x2="0" y2="1"><stop offset="0" stop-color="#a5a168"/><stop offset="0.5" stop-color="#b9b47e"/><stop offset="0.62" stop-color="#d4d2c2"/><stop offset="1" stop-color="#cbc9ba"/></linearGradient></defs><path d="M422.3 489.3 L428.7 486.4 L436.3 483.1 L434.9 490.4 L436.0 498.0 L428.7 495.4 L422.3 494.2Z" fill="#cdb08d"/><path d="M394.3 485.8 L397.8 481.1 L400.1 479.6 L405.6 481.7 L404.4 486.0Z" fill="#a9a672"/><path d="M397.8 498.0 L403.0 497.8 L401.9 501.3 L399.5 501.8Z" fill="#c9a983"/><path d="M410.6 496.3 L417.1 495.9 L416.5 499.4 L413.6 499.8Z" fill="#c9a983"/><path d="M416.5 487.5 L419.4 486.1 L420.0 488.7Z" fill="#c9a983"/><path d="M384.4 496.6 L390.2 497.1 L387.3 499.0Z" fill="#c9a983"/><path d="M371.3 492.8 L372.7 489.9 L377.3 487.5 L385.5 485.8 L394.9 485.0 L405.4 485.8 L414.7 487.3 L422.9 488.9 L425.5 491.6 L422.9 494.4 L414.7 496.4 L405.4 497.8 L394.9 498.7 L385.5 498.3 L377.3 496.6 L372.7 494.8Z" fill="url(#trg)"/><path d="M385.5 492.4L423.8 491.8" stroke="#9a6690" stroke-width="1.7" stroke-dasharray="1.4 0.6" opacity="0.8"/><path d="M408.0 493.2h0.6M391.6 489.5h0.6M429.6 496.7h0.6M381.2 483.8h0.6M376.5 488.2h0.6M375.1 488.5h0.6M414.2 485.1h0.6M415.9 491.0h0.6M374.8 490.4h0.6M389.6 487.7h0.6M391.1 492.9h0.6M401.0 482.9h0.6M407.6 494.5h0.6M392.6 484.1h0.6M397.7 497.4h0.6M434.8 492.5h0.6M430.2 495.7h0.6M397.1 481.7h0.6M414.5 490.4h0.6M396.1 484.1h0.6M398.9 488.7h0.6M390.2 485.4h0.6M402.1 496.0h0.6M410.2 485.2h0.6M390.8 488.4h0.6M386.2 483.7h0.6M405.7 481.6h0.6M403.8 486.7h0.6M417.9 493.9h0.6M416.9 492.8h0.6M396.8 492.4h0.6M394.7 490.6h0.6M393.8 488.3h0.6M377.1 484.5h0.6M434.5 484.2h0.6M416.9 492.1h0.6M418.9 488.8h0.6M410.9 481.2h0.6M377.8 483.6h0.6M382.8 481.8h0.6M381.4 490.3h0.6M385.1 497.7h0.6M416.3 490.0h0.6M417.9 484.9h0.6M431.7 495.6h0.6M419.1 488.9h0.6M426.4 493.9h0.6M414.9 497.0h0.6M413.2 486.8h0.6M408.1 483.6h0.6M385.4 493.5h0.6M422.8 498.1h0.6M426.9 490.1h0.6M378.9 489.1h0.6M431.8 494.7h0.6M403.9 488.4h0.6M387.0 483.2h0.6M377.9 496.6h0.6M413.6 482.6h0.6M399.4 480.8h0.6M386.5 493.6h0.6M414.3 488.9h0.6M390.6 492.1h0.6M433.6 488.1h0.6M377.7 481.0h0.6M378.5 497.9h0.6M407.4 495.6h0.6M384.0 484.8h0.6M416.9 496.7h0.6M394.7 481.1h0.6M427.8 485.4h0.6M420.0 482.9h0.6M417.1 495.7h0.6M419.1 486.6h0.6M419.1 482.5h0.6M393.1 487.8h0.6M428.6 482.8h0.6M428.8 494.9h0.6M434.6 486.8h0.6M386.2 484.4h0.6M425.5 498.0h0.6M417.3 488.9h0.6M391.4 495.5h0.6M428.3 481.7h0.6M386.9 495.5h0.6M426.8 485.8h0.6M390.9 488.0h0.6M407.3 481.7h0.6M426.1 489.9h0.6M422.1 484.2h0.6M434.2 494.0h0.6M394.9 497.7h0.6M417.4 495.6h0.6M376.1 481.0h0.6M420.1 485.6h0.6M405.9 482.9h0.6M435.0 489.3h0.6M425.6 481.3h0.6M403.5 481.1h0.6M429.0 488.3h0.6M377.6 481.4h0.6M407.2 481.3h0.6M384.9 488.1h0.6M404.7 490.8h0.6M412.4 486.9h0.6M412.3 482.9h0.6M390.6 494.9h0.6M382.9 484.1h0.6M388.6 488.9h0.6M373.3 480.5h0.6M402.4 483.0h0.6M416.1 494.8h0.6M409.7 492.9h0.6M397.9 480.8h0.6M401.0 486.9h0.6M410.9 482.4h0.6M387.6 495.2h0.6M389.9 487.6h0.6M432.3 485.1h0.6M382.4 493.1h0.6M409.0 491.4h0.6M375.9 487.7h0.6M373.5 484.5h0.6M417.8 481.1h0.6M391.8 498.4h0.6M434.5 488.9h0.6M419.7 491.8h0.6M402.6 495.9h0.6M384.1 495.4h0.6M375.9 496.1h0.6M415.9 488.3h0.6M415.6 488.5h0.6M422.5 482.1h0.6M405.3 496.2h0.6M431.8 484.0h0.6M389.1 496.8h0.6M395.1 481.0h0.6M418.4 487.7h0.6M419.6 488.8h0.6M404.8 487.7h0.6M391.6 496.8h0.6M415.4 494.7h0.6M429.8 484.6h0.6M431.3 496.1h0.6M405.2 490.5h0.6M380.5 494.2h0.6M384.2 489.9h0.6M381.2 481.3h0.6M411.7 489.1h0.6M415.8 494.7h0.6M435.2 481.5h0.6M413.1 490.7h0.6M414.3 490.1h0.6M408.4 496.2h0.6M401.8 489.9h0.6M416.8 481.6h0.6M400.5 481.8h0.6M382.0 480.0h0.6M386.5 484.0h0.6M405.8 490.6h0.6M425.2 489.0h0.6M429.5 487.3h0.6M420.2 490.3h0.6M412.6 485.0h0.6M432.4 494.3h0.6M382.4 490.0h0.6M436.1 480.8h0.6M392.4 493.8h0.6M375.7 493.9h0.6M409.4 493.6h0.6" stroke="#2e2e20" stroke-width="0.65" opacity="0.6" clip-path="url(#trc)"/><circle cx="375.6" cy="492.2" r="1.2" fill="#e08a1e"/><circle cx="375.6" cy="492.2" r="0.5" fill="#222"/></g>
<text class="lt" style="font-size:13.6px;text-anchor:end" transform="translate(679.8 500.7) scale(0.9 1)">h)</text>
<rect x="368.2" y="405.4" width="314.3" height="104.1" fill="none" stroke="#333" stroke-width="1.60"/>
<rect x="368.2" y="389.9" width="314.3" height="15.5" fill="#d9d9d9" stroke="#333" stroke-width="1.60"/>
<text class="st" x="524.0" y="401.60">Trout</text>
<text class="tk" style="font-size:11.9px" text-anchor="middle" x="382.8" y="527.2">-10</text>
<text class="tk" style="font-size:11.9px" text-anchor="middle" x="411.3" y="527.2">-5</text>
<text class="tk" style="font-size:11.9px" text-anchor="middle" x="439.9" y="527.2">0</text>
<text class="tk" style="font-size:11.9px" text-anchor="middle" x="468.5" y="527.2">5</text>
<text class="tk" style="font-size:11.9px" text-anchor="middle" x="497.0" y="527.2">10</text>
<text class="tk" style="font-size:11.9px" text-anchor="middle" x="525.6" y="527.2">15</text>
<text class="tk" style="font-size:11.9px" text-anchor="middle" x="554.2" y="527.2">20</text>
<text class="tk" style="font-size:11.9px" text-anchor="middle" x="582.8" y="527.2">25</text>
<text class="tk" style="font-size:11.9px" text-anchor="middle" x="611.3" y="527.2">30</text>
<text class="tk" style="font-size:11.9px" text-anchor="middle" x="639.9" y="527.2">35</text>
<text class="tk" style="font-size:11.9px" text-anchor="middle" x="668.5" y="527.2">40</text>
<path d="M382.8 509.5V514.8M411.3 509.5V514.8M439.9 509.5V514.8M468.5 509.5V514.8M497.0 509.5V514.8M525.6 509.5V514.8M554.2 509.5V514.8M582.8 509.5V514.8M611.3 509.5V514.8M639.9 509.5V514.8M668.5 509.5V514.8" stroke="#333" stroke-width="1.3" fill="none"/>
</g>
<path d="M46.7 405.4V509.5" stroke="#333" stroke-width="1.9" fill="none"/>
<path d="M45.8 509.7H362.2M367.4 509.7H683.3" stroke="#333" stroke-width="1.3" fill="none"/>
<g id="legend">
<rect x="592.1" y="22.6" width="86.9" height="54.6" fill="#fff" stroke="#000" stroke-width="1.3"/>
<text class="lt" x="635.8" y="36.5">Fire Severity</text>
<path d="M600.9 43.6H618.1" stroke="#FF9200" stroke-width="4.2" fill="none"/>
<text class="lg" x="625.9" y="46.0">Low</text>
<path d="M600.9 55.6H618.1" stroke="#FF3030" stroke-width="4.2" fill="none"/>
<text class="lg" x="625.9" y="58.5">Moderate</text>
<path d="M600.9 67.6H618.1" stroke="#B02020" stroke-width="4.2" fill="none"/>
<text class="lg" x="625.9" y="69.5">High</text>
</g>
<text class="ax" x="365.6" y="543.4">Time (years)</text>
<text class="ax" style="font-size:11.4px" transform="translate(10.5 282.9) rotate(-90)">Percent Change (%)</text>
</svg></body></html>
